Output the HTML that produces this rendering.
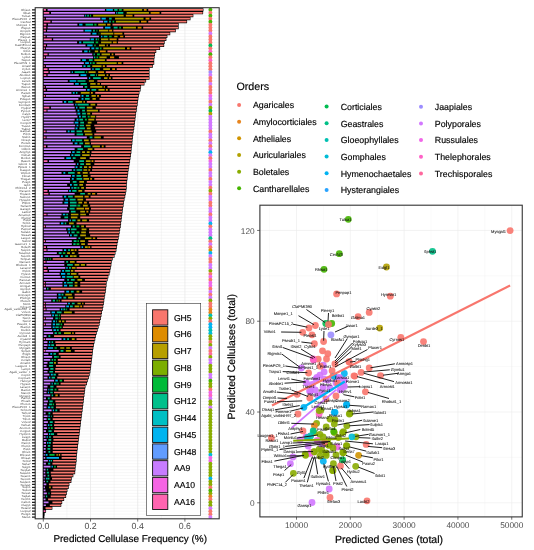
<!DOCTYPE html>
<html lang="en"><head><meta charset="utf-8"><title>Predicted cellulases</title>
<style>html,body{margin:0;padding:0;background:#fff}body{width:534px;height:550px;overflow:hidden}svg{display:block}</style>
</head><body>
<svg width="534" height="550" viewBox="0 0 534 550" font-family='"Liberation Sans", Arial, Helvetica, sans-serif' text-rendering="geometricPrecision">
<rect width="534" height="550" fill="#fff"/>
<g id="barpanel">
<path d="M35.2 9.80H219.2M35.2 12.77H219.2M35.2 15.73H219.2M35.2 18.70H219.2M35.2 21.67H219.2M35.2 24.63H219.2M35.2 27.60H219.2M35.2 30.57H219.2M35.2 33.53H219.2M35.2 36.50H219.2M35.2 39.47H219.2M35.2 42.43H219.2M35.2 45.40H219.2M35.2 48.37H219.2M35.2 51.33H219.2M35.2 54.30H219.2M35.2 57.27H219.2M35.2 60.23H219.2M35.2 63.20H219.2M35.2 66.17H219.2M35.2 69.13H219.2M35.2 72.10H219.2M35.2 75.07H219.2M35.2 78.03H219.2M35.2 81.00H219.2M35.2 83.97H219.2M35.2 86.93H219.2M35.2 89.90H219.2M35.2 92.87H219.2M35.2 95.83H219.2M35.2 98.80H219.2M35.2 101.77H219.2M35.2 104.73H219.2M35.2 107.70H219.2M35.2 110.67H219.2M35.2 113.63H219.2M35.2 116.60H219.2M35.2 119.57H219.2M35.2 122.53H219.2M35.2 125.50H219.2M35.2 128.47H219.2M35.2 131.43H219.2M35.2 134.40H219.2M35.2 137.37H219.2M35.2 140.33H219.2M35.2 143.30H219.2M35.2 146.27H219.2M35.2 149.23H219.2M35.2 152.20H219.2M35.2 155.17H219.2M35.2 158.14H219.2M35.2 161.10H219.2M35.2 164.07H219.2M35.2 167.04H219.2M35.2 170.00H219.2M35.2 172.97H219.2M35.2 175.94H219.2M35.2 178.90H219.2M35.2 181.87H219.2M35.2 184.84H219.2M35.2 187.80H219.2M35.2 190.77H219.2M35.2 193.74H219.2M35.2 196.70H219.2M35.2 199.67H219.2M35.2 202.64H219.2M35.2 205.60H219.2M35.2 208.57H219.2M35.2 211.54H219.2M35.2 214.50H219.2M35.2 217.47H219.2M35.2 220.44H219.2M35.2 223.40H219.2M35.2 226.37H219.2M35.2 229.34H219.2M35.2 232.30H219.2M35.2 235.27H219.2M35.2 238.24H219.2M35.2 241.20H219.2M35.2 244.17H219.2M35.2 247.14H219.2M35.2 250.10H219.2M35.2 253.07H219.2M35.2 256.04H219.2M35.2 259.00H219.2M35.2 261.97H219.2M35.2 264.94H219.2M35.2 267.90H219.2M35.2 270.87H219.2M35.2 273.84H219.2M35.2 276.80H219.2M35.2 279.77H219.2M35.2 282.74H219.2M35.2 285.70H219.2M35.2 288.67H219.2M35.2 291.64H219.2M35.2 294.60H219.2M35.2 297.57H219.2M35.2 300.54H219.2M35.2 303.50H219.2M35.2 306.47H219.2M35.2 309.44H219.2M35.2 312.40H219.2M35.2 315.37H219.2M35.2 318.34H219.2M35.2 321.30H219.2M35.2 324.27H219.2M35.2 327.24H219.2M35.2 330.20H219.2M35.2 333.17H219.2M35.2 336.14H219.2M35.2 339.10H219.2M35.2 342.07H219.2M35.2 345.04H219.2M35.2 348.00H219.2M35.2 350.97H219.2M35.2 353.94H219.2M35.2 356.90H219.2M35.2 359.87H219.2M35.2 362.84H219.2M35.2 365.80H219.2M35.2 368.77H219.2M35.2 371.74H219.2M35.2 374.70H219.2M35.2 377.67H219.2M35.2 380.64H219.2M35.2 383.60H219.2M35.2 386.57H219.2M35.2 389.54H219.2M35.2 392.50H219.2M35.2 395.47H219.2M35.2 398.44H219.2M35.2 401.40H219.2M35.2 404.37H219.2M35.2 407.34H219.2M35.2 410.30H219.2M35.2 413.27H219.2M35.2 416.24H219.2M35.2 419.20H219.2M35.2 422.17H219.2M35.2 425.14H219.2M35.2 428.10H219.2M35.2 431.07H219.2M35.2 434.04H219.2M35.2 437.00H219.2M35.2 439.97H219.2M35.2 442.94H219.2M35.2 445.90H219.2M35.2 448.87H219.2M35.2 451.84H219.2M35.2 454.81H219.2M35.2 457.77H219.2M35.2 460.74H219.2M35.2 463.71H219.2M35.2 466.67H219.2M35.2 469.64H219.2M35.2 472.61H219.2M35.2 475.57H219.2M35.2 478.54H219.2M35.2 481.51H219.2M35.2 484.47H219.2M35.2 487.44H219.2M35.2 490.41H219.2M35.2 493.37H219.2M35.2 496.34H219.2M35.2 499.31H219.2M35.2 502.27H219.2M35.2 505.24H219.2M35.2 508.21H219.2M35.2 511.17H219.2M35.2 514.14H219.2M35.2 517.11H219.2" stroke="#ECECEC" stroke-width="0.4" fill="none"/>
<path d="M66.90 7.7V518.8M114.10 7.7V518.8M161.30 7.7V518.8M208.50 7.7V518.8" stroke="#E6E6E6" stroke-width="0.35" fill="none"/>
<path d="M43.30 7.7V518.8M90.50 7.7V518.8M137.70 7.7V518.8M184.90 7.7V518.8" stroke="#E6E6E6" stroke-width="0.7" fill="none"/>
<path d="M42.70 8.20H203.45V11.40H42.70ZM42.70 11.16H203.11V14.37H42.70ZM42.70 14.13H193.33V17.34H42.70ZM42.70 17.10H190.47V20.30H42.70ZM42.70 20.06H187.09V23.27H42.70ZM42.70 23.03H178.66V26.24H42.70ZM42.70 26.00H178.66V29.20H42.70ZM42.70 28.96H175.79V32.17H42.70ZM42.70 31.93H170.23V35.14H42.70ZM42.70 34.90H167.36V38.10H42.70ZM42.70 37.86H166.35V41.07H42.70ZM42.70 40.83H164.66V44.04H42.70ZM42.70 43.80H164.16V47.00H42.70ZM42.70 46.76H160.11V49.97H42.70ZM42.70 49.73H156.23V52.94H42.70ZM42.70 52.70H155.05V55.90H42.70ZM42.70 55.66H154.55V58.87H42.70ZM42.70 58.63H154.21V61.84H42.70ZM42.70 61.60H154.21V64.80H42.70ZM42.70 64.56H152.86V67.77H42.70ZM42.70 67.53H149.49V70.74H42.70ZM42.70 70.50H149.49V73.70H42.70ZM42.70 73.46H149.49V76.67H42.70ZM42.70 76.43H149.49V79.64H42.70ZM42.70 79.40H146.11V82.60H42.70ZM42.70 82.36H144.43V85.57H42.70ZM42.70 85.33H141.06V88.54H42.70ZM42.70 88.30H140.55V91.50H42.70ZM42.70 91.26H139.43V94.47H42.70ZM42.70 94.23H138.86V97.44H42.70ZM42.70 97.20H138.30V100.40H42.70ZM42.70 100.16H137.93V103.37H42.70ZM42.70 103.13H137.55V106.34H42.70ZM42.70 106.10H136.99V109.30H42.70ZM42.70 109.06H136.62V112.27H42.70ZM42.70 112.03H136.06V115.24H42.70ZM42.70 115.00H135.68V118.20H42.70ZM42.70 117.96H135.31V121.17H42.70ZM42.70 120.93H134.93V124.14H42.70ZM42.70 123.90H134.56V127.10H42.70ZM42.70 126.86H134.18V130.07H42.70ZM42.70 129.83H133.62V133.04H42.70ZM42.70 132.80H133.25V136.00H42.70ZM42.70 135.76H132.87V138.97H42.70ZM42.70 138.73H132.50V141.94H42.70ZM42.70 141.70H132.31V144.90H42.70ZM42.70 144.66H131.94V147.87H42.70ZM42.70 147.63H131.56V150.84H42.70ZM42.70 150.60H131.37V153.80H42.70ZM42.70 153.56H131.00V156.77H42.70ZM42.70 156.53H130.44V159.74H42.70ZM42.70 159.50H130.06V162.71H42.70ZM42.70 162.47H129.50V165.67H42.70ZM42.70 165.43H129.13V168.64H42.70ZM42.70 168.40H128.56V171.61H42.70ZM42.70 171.37H128.19V174.57H42.70ZM42.70 174.33H127.82V177.54H42.70ZM42.70 177.30H127.44V180.51H42.70ZM42.70 180.27H127.07V183.47H42.70ZM42.70 183.23H126.69V186.44H42.70ZM42.70 186.20H126.69V189.41H42.70ZM42.70 189.17H126.32V192.37H42.70ZM42.70 192.13H125.76V195.34H42.70ZM42.70 195.10H125.19V198.31H42.70ZM42.70 198.07H124.45V201.27H42.70ZM42.70 201.03H123.88V204.24H42.70ZM42.70 204.00H123.51V207.21H42.70ZM42.70 206.97H122.95V210.17H42.70ZM42.70 209.93H122.57V213.14H42.70ZM42.70 212.90H122.20V216.11H42.70ZM42.70 215.87H121.82V219.07H42.70ZM42.70 218.83H121.45V222.04H42.70ZM42.70 221.80H121.07V225.01H42.70ZM42.70 224.77H120.70V227.97H42.70ZM42.70 227.73H120.14V230.94H42.70ZM42.70 230.70H119.58V233.91H42.70ZM42.70 233.67H119.20V236.87H42.70ZM42.70 236.63H118.64V239.84H42.70ZM42.70 239.60H118.08V242.81H42.70ZM42.70 242.57H117.33V245.77H42.70ZM42.70 245.53H116.95V248.74H42.70ZM42.70 248.50H116.39V251.71H42.70ZM42.70 251.47H115.46V254.67H42.70ZM42.70 254.43H114.52V257.64H42.70ZM42.70 257.40H112.65V260.61H42.70ZM42.70 260.37H111.71V263.57H42.70ZM42.70 263.33H111.34V266.54H42.70ZM42.70 266.30H110.77V269.51H42.70ZM42.70 269.27H110.21V272.47H42.70ZM42.70 272.23H109.46V275.44H42.70ZM42.70 275.20H108.34V278.41H42.70ZM42.70 278.17H107.59V281.37H42.70ZM42.70 281.13H106.65V284.34H42.70ZM42.70 284.10H106.47V287.31H42.70ZM42.70 287.07H106.09V290.27H42.70ZM42.70 290.03H105.72V293.24H42.70ZM42.70 293.00H105.16V296.21H42.70ZM42.70 295.97H104.59V299.17H42.70ZM42.70 298.93H104.22V302.14H42.70ZM42.70 301.90H103.85V305.11H42.70ZM42.70 304.87H103.28V308.07H42.70ZM42.70 307.83H102.72V311.04H42.70ZM42.70 310.80H101.97V314.01H42.70ZM42.70 313.77H101.41V316.97H42.70ZM42.70 316.73H100.85V319.94H42.70ZM42.70 319.70H100.10V322.91H42.70ZM42.70 322.67H99.54V325.87H42.70ZM42.70 325.63H98.60V328.84H42.70ZM42.70 328.60H97.67V331.81H42.70ZM42.70 331.57H96.73V334.77H42.70ZM42.70 334.53H95.98V337.74H42.70ZM42.70 337.50H95.23V340.71H42.70ZM42.70 340.47H94.48V343.67H42.70ZM42.70 343.43H93.92V346.64H42.70ZM42.70 346.40H93.36V349.61H42.70ZM42.70 349.37H92.98V352.57H42.70ZM42.70 352.33H92.61V355.54H42.70ZM42.70 355.30H92.24V358.51H42.70ZM42.70 358.27H91.86V361.47H42.70ZM42.70 361.23H91.49V364.44H42.70ZM42.70 364.20H91.11V367.41H42.70ZM42.70 367.17H90.74V370.37H42.70ZM42.70 370.13H90.36V373.34H42.70ZM42.70 373.10H89.61V376.31H42.70ZM42.70 376.07H88.86V379.27H42.70ZM42.70 379.03H87.74V382.24H42.70ZM42.70 382.00H86.99V385.21H42.70ZM42.70 384.97H85.49V388.17H42.70ZM42.70 387.93H85.12V391.14H42.70ZM42.70 390.90H84.74V394.11H42.70ZM42.70 393.87H84.37V397.07H42.70ZM42.70 396.83H84.00V400.04H42.70ZM42.70 399.80H83.62V403.01H42.70ZM42.70 402.77H83.25V405.97H42.70ZM42.70 405.73H82.87V408.94H42.70ZM42.70 408.70H82.50V411.91H42.70ZM42.70 411.67H82.12V414.87H42.70ZM42.70 414.63H81.75V417.84H42.70ZM42.70 417.60H81.37V420.81H42.70ZM42.70 420.57H81.00V423.77H42.70ZM42.70 423.53H80.62V426.74H42.70ZM42.70 426.50H80.25V429.71H42.70ZM42.70 429.47H79.88V432.67H42.70ZM42.70 432.43H79.50V435.64H42.70ZM42.70 435.40H79.13V438.61H42.70ZM42.70 438.37H78.75V441.57H42.70ZM42.70 441.33H78.38V444.54H42.70ZM42.70 444.30H78.00V447.51H42.70ZM42.70 447.27H77.63V450.47H42.70ZM42.70 450.23H77.25V453.44H42.70ZM42.70 453.20H76.88V456.41H42.70ZM42.70 456.17H76.59V459.38H42.70ZM42.70 459.14H76.59V462.34H42.70ZM42.70 462.10H76.20V465.31H42.70ZM42.70 465.07H75.67V468.28H42.70ZM42.70 468.04H75.41V471.24H42.70ZM42.70 471.00H75.15V474.21H42.70ZM42.70 473.97H73.32V477.18H42.70ZM42.70 476.94H71.74V480.14H42.70ZM42.70 479.90H71.35V483.11H42.70ZM42.70 482.87H69.38V486.08H42.70ZM42.70 485.84H68.73V489.04H42.70ZM42.70 488.80H67.42V492.01H42.70ZM42.70 491.77H66.76V494.98H42.70ZM42.70 494.74H66.11V497.94H42.70ZM42.70 497.70H64.14V500.91H42.70ZM42.70 500.67H62.18V503.88H42.70ZM42.70 503.64H61.26V506.84H42.70ZM42.70 506.60H52.35V509.81H42.70ZM42.70 509.57H46.05V512.78H42.70ZM42.70 512.54H44.61V515.74H42.70ZM42.70 515.50H44.35V518.71H42.70Z" fill="#000"/>
<path d="M43.71 8.94H45.90V10.66H43.71ZM43.71 11.91H49.27V13.63H43.71ZM43.71 17.84H44.55V19.56H43.71ZM43.71 20.81H50.46V22.53H43.71ZM43.71 23.77H46.41V25.49H43.71ZM43.71 26.74H46.24V28.46H43.71ZM43.71 29.71H45.90V31.43H43.71ZM43.71 35.64H45.56V37.36H43.71ZM43.71 38.61H51.80V40.33H43.71ZM43.71 44.54H45.90V46.26H43.71ZM43.71 47.51H45.06V49.23H43.71ZM43.71 53.44H47.59V55.16H43.71ZM43.71 56.41H45.06V58.13H43.71ZM43.71 65.31H44.72V67.03H43.71ZM43.71 68.27H47.59V69.99H43.71ZM43.71 71.24H48.43V72.96H43.71ZM43.71 74.21H46.41V75.93H43.71ZM43.71 86.07H44.72V87.79H43.71ZM43.75 89.04H45.62V90.76H43.75ZM43.75 94.97H45.24V96.69H43.75ZM43.75 106.84H49.36V108.56H43.75ZM43.75 109.81H46.55V111.53H43.75ZM43.75 130.57H45.62V132.29H43.75ZM43.75 136.51H45.62V138.23H43.75ZM43.75 145.41H45.99V147.13H43.75ZM43.75 160.24H47.49V161.96H43.75ZM43.75 189.91H47.49V191.63H43.75ZM43.75 192.88H48.43V194.60H43.75ZM43.75 213.64H46.55V215.36H43.75ZM43.75 225.51H45.24V227.23H43.75ZM43.75 240.34H45.24V242.06H43.75ZM43.75 246.28H45.99V248.00H43.75ZM43.75 249.24H46.55V250.96H43.75ZM43.75 261.11H45.62V262.83H43.75ZM43.75 267.04H46.55V268.76H43.75ZM43.75 270.01H47.49V271.73H43.75ZM43.75 281.88H45.24V283.60H43.75ZM43.75 284.84H45.24V286.56H43.75ZM43.75 302.64H45.24V304.36H43.75ZM43.75 305.61H45.24V307.33H43.75ZM43.75 308.58H45.62V310.30H43.75ZM43.75 317.48H45.24V319.20H43.75ZM43.75 323.41H45.24V325.13H43.75ZM43.75 338.24H45.24V339.96H43.75ZM43.75 350.11H45.24V351.83H43.75ZM43.67 510.31H45.50V512.03H43.67Z" fill="#FF64B0"/>
<path d="M47.59 8.94H104.92V10.66H47.59ZM50.96 11.91H115.04V13.63H50.96ZM43.71 14.87H84.18V16.59H43.71ZM45.90 17.84H100.37V19.56H45.90ZM51.80 20.81H103.24V22.53H51.80ZM47.93 23.77H77.44V25.49H47.93ZM47.59 26.74H103.24V28.46H47.59ZM47.08 29.71H83.51V31.43H47.08ZM43.71 32.67H90.59V34.39H43.71ZM46.75 35.64H99.02V37.36H46.75ZM53.15 38.61H89.75V40.33H53.15ZM43.71 41.57H77.10V43.29H43.71ZM47.08 44.54H85.53V46.26H47.08ZM45.90 47.51H89.75V49.23H45.90ZM43.71 50.47H82.16V52.19H43.71ZM48.77 53.44H92.28V55.16H48.77ZM45.90 56.41H93.12V58.13H45.90ZM43.71 59.37H80.47V61.09H43.71ZM43.71 62.34H83.84V64.06H43.71ZM45.90 65.31H82.16V67.03H45.90ZM48.77 68.27H90.59V69.99H48.77ZM49.78 71.24H70.35V72.96H49.78ZM47.59 74.21H78.79V75.93H47.59ZM43.71 77.17H87.22V78.89H43.71ZM43.71 80.14H67.82V81.86H43.71ZM43.71 83.11H73.73V84.83H43.71ZM45.90 86.07H83.00V87.79H45.90ZM47.12 89.04H85.88V90.76H47.12ZM43.75 92.01H71.46V93.73H43.75ZM45.99 94.97H80.26V96.69H45.99ZM43.75 97.94H78.39V99.66H43.75ZM43.75 100.91H62.47V102.63H43.75ZM43.75 103.87H73.71V105.59H43.75ZM50.86 106.84H74.64V108.56H50.86ZM47.49 109.81H75.58V111.53H47.49ZM43.75 112.77H76.52V114.49H43.75ZM43.75 115.74H77.45V117.46H43.75ZM43.75 118.71H74.64V120.43H43.75ZM43.75 121.67H73.71V123.39H43.75ZM43.75 124.64H75.21V126.36H43.75ZM43.75 127.61H74.64V129.33H43.75ZM46.55 130.57H66.22V132.29H46.55ZM43.75 133.54H74.64V135.26H43.75ZM46.55 136.51H86.82V138.23H46.55ZM43.75 139.47H70.90V141.19H43.75ZM43.75 142.44H72.77V144.16H43.75ZM47.49 145.41H81.20V147.13H47.49ZM43.75 148.37H74.64V150.09H43.75ZM43.75 151.34H70.90V153.06H43.75ZM43.75 154.31H69.96V156.03H43.75ZM43.75 157.28H64.34V159.00H43.75ZM48.99 160.24H73.71V161.96H48.99ZM43.75 163.21H75.58V164.93H43.75ZM43.75 166.18H74.64V167.90H43.75ZM43.75 169.14H71.84V170.86H43.75ZM43.75 172.11H61.54V173.83H43.75ZM43.75 175.08H70.90V176.80H43.75ZM43.75 178.04H69.96V179.76H43.75ZM43.75 181.01H69.96V182.73H43.75ZM43.75 183.98H67.15V185.70H43.75ZM43.75 186.94H69.96V188.66H43.75ZM48.99 189.91H68.09V191.63H48.99ZM49.74 192.88H74.64V194.60H49.74ZM43.75 195.84H62.47V197.56H43.75ZM43.75 198.81H63.41V200.53H43.75ZM43.75 201.78H62.47V203.50H43.75ZM43.75 204.74H68.09V206.46H43.75ZM43.75 207.71H67.15V209.43H43.75ZM43.75 210.68H69.03V212.40H43.75ZM47.49 213.64H61.54V215.36H47.49ZM43.75 216.61H60.60V218.33H43.75ZM43.75 219.58H68.09V221.30H43.75ZM43.75 222.54H59.66V224.26H43.75ZM45.99 225.51H70.90V227.23H45.99ZM43.75 228.48H66.22V230.20H43.75ZM43.75 231.44H67.15V233.16H43.75ZM43.75 234.41H69.03V236.13H43.75ZM43.75 237.38H76.52V239.10H43.75ZM45.99 240.34H71.84V242.06H45.99ZM43.75 243.31H71.84V245.03H43.75ZM47.12 246.28H80.26V248.00H47.12ZM47.49 249.24H62.47V250.96H47.49ZM43.75 252.21H56.85V253.93H43.75ZM43.75 255.18H59.66V256.90H43.75ZM43.75 258.14H44.68V259.86H43.75ZM46.55 261.11H64.34V262.83H46.55ZM43.75 264.08H64.34V265.80H43.75ZM47.87 267.04H65.28V268.76H47.87ZM48.99 270.01H60.60V271.73H48.99ZM43.75 272.98H59.66V274.70H43.75ZM43.75 275.94H60.60V277.66H43.75ZM43.75 278.91H64.34V280.63H43.75ZM45.99 281.88H62.47V283.60H45.99ZM45.99 284.84H62.47V286.56H45.99ZM43.75 287.81H45.99V289.53H43.75ZM43.75 290.78H64.34V292.50H43.75ZM43.75 293.74H56.85V295.46H43.75ZM43.75 296.71H56.85V298.43H43.75ZM43.75 299.68H51.24V301.40H43.75ZM45.99 302.64H67.15V304.36H45.99ZM45.99 305.61H65.28V307.33H45.99ZM46.55 308.58H59.66V310.30H46.55ZM43.75 311.54H50.30V313.26H43.75ZM43.75 314.51H51.24V316.23H43.75ZM45.99 317.48H53.11V319.20H45.99ZM43.75 320.44H51.61V322.16H43.75ZM45.99 323.41H51.24V325.13H45.99ZM43.75 326.38H51.24V328.10H43.75ZM43.75 329.34H52.17V331.06H43.75ZM43.75 332.31H53.11V334.03H43.75ZM43.75 335.28H46.55V337.00H43.75ZM45.99 338.24H61.54V339.96H45.99ZM43.75 341.21H47.49V342.93H43.75ZM43.75 344.18H47.49V345.90H43.75ZM43.75 347.14H46.55V348.86H43.75ZM45.62 350.11H58.73V351.83H45.62ZM43.75 353.08H48.43V354.80H43.75ZM43.75 356.04H52.17V357.76H43.75ZM43.75 359.01H50.30V360.73H43.75ZM43.75 361.98H47.49V363.70H43.75ZM43.75 364.94H46.55V366.66H43.75ZM43.75 367.91H48.43V369.63H43.75ZM43.75 370.88H47.49V372.60H43.75ZM43.75 373.84H49.36V375.56H43.75ZM43.75 376.81H47.49V378.53H43.75ZM43.75 379.78H54.04V381.50H43.75ZM43.75 382.74H50.30V384.46H43.75ZM43.75 385.71H47.49V387.43H43.75ZM43.75 388.68H47.12V390.40H43.75ZM43.75 391.64H46.55V393.36H43.75ZM43.75 394.61H50.30V396.33H43.75ZM43.75 397.58H45.99V399.30H43.75ZM43.75 400.54H47.87V402.26H43.75ZM43.75 403.51H47.12V405.23H43.75ZM43.75 406.48H46.55V408.20H43.75ZM43.75 409.44H51.61V411.16H43.75ZM43.75 412.41H45.62V414.13H43.75ZM43.75 415.38H47.49V417.10H43.75ZM43.75 418.34H46.55V420.06H43.75ZM43.75 421.31H47.87V423.03H43.75ZM43.75 424.28H46.55V426.00H43.75ZM43.75 427.24H47.12V428.96H43.75ZM43.75 430.21H45.99V431.93H43.75ZM43.75 433.18H47.87V434.90H43.75ZM43.75 436.14H45.62V437.86H43.75ZM43.75 439.11H46.55V440.83H43.75ZM43.75 442.08H45.99V443.80H43.75ZM43.75 445.04H45.99V446.76H43.75ZM43.75 448.01H45.62V449.73H43.75ZM43.75 450.98H45.62V452.70H43.75ZM43.75 453.94H44.68V455.67H43.75ZM43.67 456.91H45.24V458.63H43.67ZM43.67 459.88H47.86V461.60H43.67ZM43.67 462.85H45.90V464.57H43.67ZM43.67 465.81H50.48V467.53H43.67ZM43.67 468.78H45.50V470.50H43.67ZM43.67 471.75H45.24V473.47H43.67ZM43.67 474.71H45.50V476.43H43.67ZM43.67 477.68H44.59V479.40H43.67ZM43.67 480.65H44.98V482.37H43.67ZM43.67 483.61H46.29V485.33H43.67ZM43.67 486.58H44.98V488.30H43.67ZM43.67 489.55H45.50V491.27H43.67ZM43.67 492.51H46.82V494.23H43.67ZM43.67 495.48H44.59V497.20H43.67ZM43.67 498.45H45.50V500.17H43.67ZM43.67 501.41H48.52V503.13H43.67ZM43.67 504.38H45.90V506.10H43.67Z" fill="#C77CFF"/>
<path d="M106.27 8.94H112.85V10.66H106.27ZM116.22 11.91H117.23V13.63H116.22ZM85.19 14.87H86.21V16.59H85.19ZM101.55 17.84H105.77V19.56H101.55ZM104.08 20.81H107.45V22.53H104.08ZM79.12 23.77H82.50V25.49H79.12ZM104.92 26.74H110.49V28.46H104.92ZM84.69 29.71H91.43V31.43H84.69ZM92.28 32.67H96.49V34.39H92.28ZM101.05 35.64H102.39V37.36H101.05ZM90.59 38.61H93.96V40.33H90.59ZM79.12 41.57H81.32V43.29H79.12ZM87.22 44.54H92.61V46.26H87.22ZM91.43 47.51H94.30V49.23H91.43ZM84.18 50.47H87.55V52.19H84.18ZM82.16 59.37H85.87V61.09H82.16ZM85.19 62.34H88.90V64.06H85.19ZM83.51 65.31H85.53V67.03H83.51ZM92.28 68.27H93.63V69.99H92.28ZM71.70 71.24H72.88V72.96H71.70ZM80.47 74.21H86.37V75.93H80.47ZM88.90 77.17H90.25V78.89H88.90ZM69.51 80.14H76.26V81.86H69.51ZM75.08 83.11H78.79V84.83H75.08ZM87.19 89.04H89.63V90.76H87.19ZM72.77 92.01H74.64V93.73H72.77ZM81.57 94.97H83.45V96.69H81.57ZM81.57 97.94H83.45V99.66H81.57ZM63.97 100.91H66.22V102.63H63.97ZM75.21 103.87H76.52V105.59H75.21ZM75.96 106.84H77.45V108.56H75.96ZM77.45 109.81H79.33V111.53H77.45ZM77.45 112.77H80.26V114.49H77.45ZM78.95 115.74H80.82V117.46H78.95ZM76.52 118.71H78.39V120.43H76.52ZM74.64 121.67H78.39V123.39H74.64ZM76.52 124.64H78.39V126.36H76.52ZM75.58 127.61H77.45V129.33H75.58ZM67.72 130.57H69.59V132.29H67.72ZM72.21 139.47H74.64V141.19H72.21ZM74.64 142.44H77.45V144.16H74.64ZM72.21 151.34H74.64V153.06H72.21ZM71.46 154.31H73.33V156.03H71.46ZM66.22 157.28H70.90V159.00H66.22ZM77.08 163.21H78.39V164.93H77.08ZM75.58 166.18H77.45V167.90H75.58ZM73.33 169.14H75.21V170.86H73.33ZM63.41 172.11H65.28V173.83H63.41ZM72.21 175.08H74.64V176.80H72.21ZM71.84 178.04H73.71V179.76H71.84ZM69.96 183.98H71.84V185.70H69.96ZM71.46 186.94H72.77V188.66H71.46ZM69.03 189.91H70.90V191.63H69.03ZM63.97 195.84H66.22V197.56H63.97ZM65.28 198.81H68.09V200.53H65.28ZM64.34 201.78H68.09V203.50H64.34ZM62.85 213.64H65.28V215.36H62.85ZM69.59 219.58H70.90V221.30H69.59ZM60.97 222.54H63.41V224.26H60.97ZM67.72 228.48H69.96V230.20H67.72ZM68.46 231.44H69.96V233.16H68.46ZM69.96 234.41H71.84V236.13H69.96ZM81.57 246.28H83.07V248.00H81.57ZM63.97 249.24H66.22V250.96H63.97ZM60.97 255.18H62.85V256.90H60.97ZM66.22 267.04H67.72V268.76H66.22ZM62.10 270.01H63.97V271.73H62.10ZM60.97 272.98H65.28V274.70H60.97ZM62.10 275.94H65.28V277.66H62.10ZM63.97 281.88H66.22V283.60H63.97ZM63.97 284.84H67.15V286.56H63.97ZM66.22 290.78H69.03V292.50H66.22ZM58.35 293.74H60.60V295.46H58.35ZM58.35 296.71H61.54V298.43H58.35ZM68.09 302.64H69.96V304.36H68.09ZM66.22 305.61H69.03V307.33H66.22ZM60.97 308.58H62.47V310.30H60.97ZM51.61 311.54H54.98V313.26H51.61ZM52.17 314.51H54.04V316.23H52.17ZM53.11 320.44H54.98V322.16H53.11ZM52.73 323.41H54.98V325.13H52.73ZM52.73 326.38H54.61V328.10H52.73ZM53.48 329.34H55.92V331.06H53.48ZM63.41 338.24H65.28V339.96H63.41ZM48.99 341.21H50.30V342.93H48.99ZM48.43 344.18H50.30V345.90H48.43ZM47.87 347.14H53.11V348.86H47.87ZM50.30 353.08H52.17V354.80H50.30ZM50.86 373.84H52.73V375.56H50.86ZM48.99 376.81H50.30V378.53H48.99ZM55.36 379.78H57.79V381.50H55.36ZM51.61 382.74H52.73V384.46H51.61ZM48.43 388.68H49.36V390.40H48.43ZM47.87 391.64H48.99V393.36H47.87ZM47.87 406.48H50.30V408.20H47.87ZM52.73 409.44H54.04V411.16H52.73ZM48.43 415.38H49.74V417.10H48.43ZM47.87 424.28H49.36V426.00H47.87ZM48.99 433.18H50.30V434.90H48.99ZM46.55 436.14H47.87V437.86H46.55ZM47.12 442.08H48.43V443.80H47.12ZM45.62 453.94H47.49V455.67H45.62ZM46.55 456.91H59.00V458.63H46.55ZM48.91 459.88H50.22V461.60H48.91ZM51.53 465.81H52.84V467.53H51.53ZM45.90 477.68H46.82V479.40H45.90Z" fill="#00B4F0"/>
<path d="M114.20 8.94H117.57V10.66H114.20ZM117.91 11.91H123.31V13.63H117.91ZM87.22 14.87H88.90V16.59H87.22ZM109.14 17.84H111.67V19.56H109.14ZM109.14 20.81H110.83V22.53H109.14ZM85.53 23.77H93.12V25.49H85.53ZM113.69 26.74H117.57V28.46H113.69ZM93.12 29.71H94.81V31.43H93.12ZM103.74 35.64H107.45V37.36H103.74ZM95.65 38.61H97.34V40.33H95.65ZM83.00 41.57H93.96V43.29H83.00ZM95.65 47.51H98.68V49.23H95.65ZM88.90 50.47H90.25V52.19H88.90ZM93.63 53.44H94.81V55.16H93.63ZM93.96 56.41H95.31V58.13H93.96ZM88.90 59.37H92.61V61.09H88.90ZM90.08 62.34H91.43V64.06H90.08ZM87.22 65.31H90.25V67.03H87.22ZM95.31 68.27H99.87V69.99H95.31ZM74.57 71.24H84.69V72.96H74.57ZM90.25 74.21H94.81V75.93H90.25ZM93.12 77.17H100.71V78.89H93.12ZM77.44 80.14H85.53V81.86H77.44ZM80.47 83.11H86.88V84.83H80.47ZM84.69 86.07H87.22V87.79H84.69ZM91.50 89.04H96.18V90.76H91.50ZM85.88 94.97H89.06V96.69H85.88ZM84.94 97.94H89.63V99.66H84.94ZM68.09 100.91H72.77V102.63H68.09ZM77.45 103.87H88.69V105.59H77.45ZM79.33 106.84H84.94V108.56H79.33ZM82.13 109.81H84.94V111.53H82.13ZM82.13 112.77H85.88V114.49H82.13ZM82.13 115.74H85.88V117.46H82.13ZM79.33 118.71H83.07V120.43H79.33ZM80.26 121.67H84.01V123.39H80.26ZM79.70 124.64H84.01V126.36H79.70ZM79.33 127.61H84.94V129.33H79.33ZM76.52 130.57H82.13V132.29H76.52ZM76.52 133.54H83.07V135.26H76.52ZM89.63 136.51H92.43V138.23H89.63ZM75.58 139.47H82.13V141.19H75.58ZM79.33 142.44H83.07V144.16H79.33ZM84.01 145.41H90.56V147.13H84.01ZM77.45 148.37H83.07V150.09H77.45ZM76.52 151.34H80.26V153.06H76.52ZM74.64 154.31H80.26V156.03H74.64ZM72.77 157.28H75.58V159.00H72.77ZM79.33 160.24H84.01V161.96H79.33ZM80.26 163.21H84.01V164.93H80.26ZM79.70 166.18H82.13V167.90H79.70ZM76.52 169.14H82.13V170.86H76.52ZM68.09 172.11H74.64V173.83H68.09ZM76.52 175.08H81.20V176.80H76.52ZM76.52 178.04H82.13V179.76H76.52ZM72.77 181.01H76.52V182.73H72.77ZM73.71 183.98H77.45V185.70H73.71ZM73.71 186.94H76.52V188.66H73.71ZM72.21 189.91H76.52V191.63H72.21ZM80.26 192.88H84.94V194.60H80.26ZM68.09 195.84H72.77V197.56H68.09ZM69.59 198.81H75.58V200.53H69.59ZM69.96 201.78H76.52V203.50H69.96ZM69.96 204.74H76.52V206.46H69.96ZM69.59 207.71H74.64V209.43H69.59ZM70.90 210.68H75.58V212.40H70.90ZM66.22 213.64H68.09V215.36H66.22ZM64.34 216.61H68.09V218.33H64.34ZM72.21 219.58H75.58V221.30H72.21ZM64.72 222.54H66.22V224.26H64.72ZM72.77 225.51H74.64V227.23H72.77ZM70.90 228.48H76.52V230.20H70.90ZM71.46 231.44H74.64V233.16H71.46ZM73.71 234.41H77.45V236.13H73.71ZM78.39 237.38H80.26V239.10H78.39ZM73.71 240.34H76.52V242.06H73.71ZM73.33 243.31H75.58V245.03H73.33ZM68.09 249.24H69.96V250.96H68.09ZM58.73 252.21H61.54V253.93H58.73ZM65.28 255.18H68.09V256.90H65.28ZM45.62 258.14H46.55V259.86H45.62ZM66.22 261.11H68.09V262.83H66.22ZM67.15 264.08H72.77V265.80H67.15ZM69.03 267.04H70.90V268.76H69.03ZM65.28 270.01H69.96V271.73H65.28ZM67.15 272.98H69.96V274.70H67.15ZM66.59 275.94H72.77V277.66H66.59ZM67.15 278.91H69.03V280.63H67.15ZM70.90 278.91H74.64V280.63H70.90ZM67.15 281.88H72.77V283.60H67.15ZM69.03 284.84H72.77V286.56H69.03ZM47.12 287.81H48.43V289.53H47.12ZM70.90 290.78H73.71V292.50H70.90ZM61.54 293.74H63.41V295.46H61.54ZM63.41 296.71H66.22V298.43H63.41ZM52.73 299.68H54.98V301.40H52.73ZM71.84 302.64H74.64V304.36H71.84ZM69.96 305.61H72.77V307.33H69.96ZM63.41 308.58H65.28V310.30H63.41ZM56.85 311.54H61.54V313.26H56.85ZM54.98 314.51H57.79V316.23H54.98ZM55.36 317.48H57.79V319.20H55.36ZM55.92 320.44H56.85V322.16H55.92ZM55.92 323.41H59.66V325.13H55.92ZM55.36 326.38H58.73V328.10H55.36ZM56.85 329.34H58.73V331.06H56.85ZM54.61 332.31H56.85V334.03H54.61ZM48.43 335.28H50.30V337.00H48.43ZM67.15 338.24H69.03V339.96H67.15ZM51.61 341.21H53.11V342.93H51.61ZM51.24 344.18H54.04V345.90H51.24ZM60.60 350.11H63.41V351.83H60.60ZM53.48 353.08H55.92V354.80H53.48ZM54.04 356.04H56.85V357.76H54.04ZM51.61 359.01H53.11V360.73H51.61ZM49.36 361.98H53.11V363.70H49.36ZM48.99 364.94H53.11V366.66H48.99ZM50.30 367.91H53.48V369.63H50.30ZM49.36 370.88H53.11V372.60H49.36ZM53.48 373.84H55.92V375.56H53.48ZM51.61 376.81H54.98V378.53H51.61ZM54.04 382.74H56.48V384.46H54.04ZM50.30 385.71H53.48V387.43H50.30ZM50.30 388.68H53.11V390.40H50.30ZM50.30 391.64H52.73V393.36H50.30ZM51.61 394.61H53.11V396.33H51.61ZM47.87 397.58H49.74V399.30H47.87ZM49.36 400.54H52.73V402.26H49.36ZM48.99 403.51H52.17V405.23H48.99ZM51.24 406.48H53.48V408.20H51.24ZM55.36 409.44H57.23V411.16H55.36ZM48.43 412.41H50.30V414.13H48.43ZM50.86 415.38H51.61V417.10H50.86ZM47.87 418.34H50.30V420.06H47.87ZM49.74 421.31H52.73V423.03H49.74ZM50.30 424.28H52.17V426.00H50.30ZM48.43 427.24H49.74V428.96H48.43ZM48.43 430.21H51.61V431.93H48.43ZM50.86 433.18H54.04V434.90H50.86ZM48.99 436.14H50.86V437.86H48.99ZM48.43 439.11H51.24V440.83H48.43ZM48.99 442.08H50.86V443.80H48.99ZM47.87 445.04H50.30V446.76H47.87ZM47.49 448.01H50.30V449.73H47.49ZM48.43 450.98H50.30V452.70H48.43ZM50.75 459.88H52.06V461.60H50.75ZM48.13 462.85H50.22V464.57H48.13ZM46.82 468.78H48.13V470.50H46.82ZM46.82 471.75H48.91V473.47H46.82ZM47.60 474.71H49.17V476.43H47.60ZM47.21 477.68H49.44V479.40H47.21ZM46.55 480.65H48.13V482.37H46.55ZM48.52 492.51H49.44V494.23H48.52ZM45.90 495.48H47.21V497.20H45.90Z" fill="#00C08B"/>
<path d="M118.92 8.94H121.79V10.66H118.92ZM89.92 14.87H91.10V16.59H89.92ZM112.51 20.81H114.20V22.53H112.51ZM94.30 23.77H96.49V25.49H94.30ZM119.26 26.74H120.94V28.46H119.26ZM96.49 29.71H97.34V31.43H96.49ZM98.68 32.67H99.36V34.39H98.68ZM109.14 35.64H111.67V37.36H109.14ZM98.18 38.61H99.02V40.33H98.18ZM95.65 41.57H98.18V43.29H95.65ZM94.30 44.54H95.65V46.26H94.30ZM99.87 47.51H101.55V49.23H99.87ZM97.00 53.44H99.87V55.16H97.00ZM96.49 56.41H98.18V58.13H96.49ZM92.61 62.34H94.81V64.06H92.61ZM85.87 71.24H87.22V72.96H85.87ZM95.99 74.21H97.00V75.93H95.99ZM87.75 115.74H89.63V117.46H87.75ZM84.94 118.71H86.82V120.43H84.94ZM77.45 186.94H79.33V188.66H77.45ZM77.45 204.74H80.26V206.46H77.45ZM76.52 225.51H79.33V227.23H76.52ZM76.52 231.44H79.33V233.16H76.52ZM77.45 240.34H78.95V242.06H77.45ZM76.52 243.31H79.33V245.03H76.52ZM62.85 252.21H65.28V253.93H62.85ZM47.87 258.14H48.99V259.86H47.87ZM49.74 258.14H50.86V259.86H49.74ZM56.48 299.68H57.79V301.40H56.48ZM66.22 308.58H67.15V310.30H66.22ZM58.73 314.51H60.22V316.23H58.73ZM58.73 317.48H59.66V319.20H58.73ZM60.60 323.41H62.10V325.13H60.60ZM59.66 326.38H61.54V328.10H59.66ZM58.35 332.31H60.97V334.03H58.35ZM54.61 347.14H56.85V348.86H54.61ZM57.23 356.04H58.73V357.76H57.23ZM54.04 359.01H55.92V360.73H54.04ZM59.66 379.78H62.10V381.50H59.66ZM57.23 382.74H58.73V384.46H57.23ZM54.61 388.68H56.48V390.40H54.61ZM52.73 403.51H54.04V405.23H52.73ZM50.86 427.24H52.73V428.96H50.86ZM49.36 453.94H54.61V455.67H49.36ZM54.15 465.81H55.73V467.53H54.15Z" fill="#00BA38"/>
<path d="M123.47 8.94H142.19V10.66H123.47ZM126.68 11.91H148.94V13.63H126.68ZM93.12 14.87H123.64V16.59H93.12ZM115.04 17.84H143.54V19.56H115.04ZM115.89 20.81H139.33V22.53H115.89ZM98.18 23.77H105.77V25.49H98.18ZM122.97 26.74H135.95V28.46H122.97ZM99.02 29.71H108.30V31.43H99.02ZM100.71 32.67H113.36V34.39H100.71ZM114.20 35.64H117.57V37.36H114.20ZM101.05 38.61H108.30V40.33H101.05ZM101.05 41.57H111.67V43.29H101.05ZM99.02 44.54H104.92V46.26H99.02ZM103.24 47.51H124.99V49.23H103.24ZM94.81 50.47H98.18V52.19H94.81ZM101.55 53.44H109.98V55.16H101.55ZM99.36 56.41H106.61V58.13H99.36ZM94.30 59.37H104.92V61.09H94.30ZM96.49 62.34H116.73V64.06H96.49ZM92.28 65.31H101.55V67.03H92.28ZM103.24 68.27H109.98V69.99H103.24ZM88.57 71.24H95.65V72.96H88.57ZM98.18 74.21H104.92V75.93H98.18ZM104.08 77.17H107.45V78.89H104.08ZM88.90 80.14H93.96V81.86H88.90ZM90.25 83.11H95.65V84.83H90.25ZM90.25 86.07H102.39V87.79H90.25ZM98.43 89.04H104.61V90.76H98.43ZM80.82 92.01H89.63V93.73H80.82ZM91.50 94.97H95.81V96.69H91.50ZM92.43 97.94H95.81V99.66H92.43ZM75.58 100.91H82.13V102.63H75.58ZM90.56 103.87H95.24V105.59H90.56ZM86.82 106.84H92.43V108.56H86.82ZM86.82 109.81H98.05V111.53H86.82ZM87.19 112.77H90.19V114.49H87.19ZM90.56 115.74H95.24V117.46H90.56ZM88.31 118.71H94.31V120.43H88.31ZM87.75 121.67H91.50V123.39H87.75ZM85.88 124.64H90.56V126.36H85.88ZM86.82 127.61H90.56V129.33H86.82ZM84.01 130.57H91.50V132.29H84.01ZM84.94 133.54H92.43V135.26H84.94ZM94.31 136.51H100.86V138.23H94.31ZM84.01 139.47H88.69V141.19H84.01ZM84.94 142.44H89.63V144.16H84.94ZM92.43 145.41H99.93V147.13H92.43ZM87.75 148.37H92.43V150.09H87.75ZM82.13 151.34H84.94V153.06H82.13ZM86.82 151.34H89.63V153.06H86.82ZM82.13 154.31H89.63V156.03H82.13ZM80.26 157.28H85.88V159.00H80.26ZM85.88 160.24H90.56V161.96H85.88ZM85.88 163.21H90.56V164.93H85.88ZM84.01 166.18H87.19V167.90H84.01ZM83.45 169.14H87.19V170.86H83.45ZM77.45 172.11H80.26V173.83H77.45ZM82.70 172.11H87.75V173.83H82.70ZM83.07 175.08H87.75V176.80H83.07ZM83.45 178.04H89.06V179.76H83.45ZM79.33 181.01H84.01V182.73H79.33ZM79.33 183.98H83.07V185.70H79.33ZM81.20 186.94H84.01V188.66H81.20ZM78.39 189.91H82.13V191.63H78.39ZM87.75 192.88H90.56V194.60H87.75ZM74.64 195.84H83.07V197.56H74.64ZM77.45 198.81H83.07V200.53H77.45ZM78.39 201.78H82.13V203.50H78.39ZM83.07 204.74H87.75V206.46H83.07ZM76.52 207.71H84.01V209.43H76.52ZM80.26 210.68H84.94V212.40H80.26ZM70.90 213.64H78.39V215.36H70.90ZM80.26 213.64H85.88V215.36H80.26ZM70.90 216.61H77.45V218.33H70.90ZM77.45 219.58H80.26V221.30H77.45ZM82.13 219.58H86.82V221.30H82.13ZM69.03 222.54H73.71V224.26H69.03ZM81.20 225.51H84.01V227.23H81.20ZM81.57 228.48H86.44V230.20H81.57ZM81.20 231.44H85.88V233.16H81.20ZM80.26 234.41H85.88V236.13H80.26ZM84.94 237.38H91.50V239.10H84.94ZM80.26 240.34H84.94V242.06H80.26ZM81.20 243.31H84.94V245.03H81.20ZM84.94 246.28H87.75V248.00H84.94ZM70.90 249.24H73.71V250.96H70.90ZM67.15 252.21H69.96V253.93H67.15ZM71.84 252.21H74.64V253.93H71.84ZM69.96 255.18H72.77V256.90H69.96ZM73.33 255.18H76.52V256.90H73.33ZM69.96 261.11H74.64V262.83H69.96ZM74.64 264.08H79.33V265.80H74.64ZM80.82 264.08H84.94V265.80H80.82ZM71.84 267.04H75.58V268.76H71.84ZM70.90 270.01H73.33V271.73H70.90ZM70.90 272.98H76.52V274.70H70.90ZM73.71 275.94H78.39V277.66H73.71ZM77.45 278.91H82.13V280.63H77.45ZM74.64 281.88H77.45V283.60H74.64ZM74.64 284.84H77.45V286.56H74.64ZM76.52 290.78H79.33V292.50H76.52ZM65.28 293.74H71.84V295.46H65.28ZM68.09 296.71H72.77V298.43H68.09ZM58.73 299.68H59.66V301.40H58.73ZM77.45 302.64H80.82V304.36H77.45ZM74.64 305.61H79.33V307.33H74.64ZM63.97 311.54H71.84V313.26H63.97ZM58.73 320.44H60.97V322.16H58.73ZM62.10 320.44H64.34V322.16H62.10ZM63.97 332.31H70.90V334.03H63.97ZM71.84 338.24H74.64V339.96H71.84ZM60.22 347.14H64.34V348.86H60.22ZM66.22 347.14H69.96V348.86H66.22ZM65.84 350.11H70.90V351.83H65.84ZM54.04 361.98H55.92V363.70H54.04ZM56.48 453.94H57.79V455.67H56.48ZM49.17 486.58H50.75V488.30H49.17Z" fill="#B79F00"/>
<path d="M143.88 8.94H146.58V10.66H143.88ZM150.62 11.91H159.56V13.63H150.62ZM125.83 14.87H132.58V16.59H125.83ZM145.56 17.84H149.44V19.56H145.56ZM141.01 20.81H146.58V22.53H141.01ZM107.12 23.77H110.49V25.49H107.12ZM137.64 26.74H141.52V28.46H137.64ZM109.14 29.71H112.18V31.43H109.14ZM114.20 32.67H122.46V34.39H114.20ZM120.10 35.64H123.31V37.36H120.10ZM109.48 38.61H116.73V40.33H109.48ZM112.85 41.57H116.73V43.29H112.85ZM106.61 44.54H107.79V46.26H106.61ZM127.02 47.51H129.71V49.23H127.02ZM99.87 50.47H105.77V52.19H99.87ZM111.67 53.44H113.36V55.16H111.67ZM109.98 56.41H114.20V58.13H109.98ZM117.91 62.34H121.62V64.06H117.91ZM102.73 65.31H104.92V67.03H102.73ZM112.18 68.27H115.04V69.99H112.18ZM98.18 71.24H104.08V72.96H98.18ZM106.61 74.21H108.30V75.93H106.61ZM109.14 77.17H110.83V78.89H109.14ZM97.34 83.11H99.87V84.83H97.34ZM103.74 86.07H104.92V87.79H103.74ZM105.92 89.04H107.79V90.76H105.92ZM90.94 92.01H92.81V93.73H90.94ZM97.12 94.97H98.99V96.69H97.12ZM83.45 100.91H84.94V102.63H83.45ZM101.80 145.41H103.67V147.13H101.80ZM91.50 160.24H93.37V161.96H91.50ZM88.69 166.18H90.94V167.90H88.69ZM88.31 169.14H90.19V170.86H88.31ZM90.19 178.04H92.06V179.76H90.19ZM92.06 192.88H95.24V194.60H92.06ZM84.57 195.84H88.69V197.56H84.57ZM84.01 201.78H86.82V203.50H84.01ZM84.94 207.71H89.06V209.43H84.94ZM86.44 210.68H88.31V212.40H86.44ZM92.81 237.38H95.24V239.10H92.81ZM88.31 246.28H90.19V248.00H88.31ZM74.64 249.24H76.52V250.96H74.64ZM82.13 302.64H83.45V304.36H82.13ZM80.26 305.61H82.13V307.33H80.26ZM72.21 332.31H73.71V334.03H72.21ZM55.36 394.61H57.79V396.33H55.36ZM58.73 453.94H60.22V455.67H58.73Z" fill="#DE8C00"/>
<path d="M148.26 8.94H202.90V10.66H148.26ZM161.25 11.91H202.56V13.63H161.25ZM134.27 14.87H192.78V16.59H134.27ZM151.13 17.84H189.92V19.56H151.13ZM148.26 20.81H186.54V22.53H148.26ZM112.51 23.77H178.11V25.49H112.51ZM143.20 26.74H178.11V28.46H143.20ZM113.36 29.71H175.24V31.43H113.36ZM124.15 32.67H169.68V34.39H124.15ZM124.99 35.64H166.81V37.36H124.99ZM118.41 38.61H165.80V40.33H118.41ZM117.91 41.57H164.11V43.29H117.91ZM109.98 44.54H163.61V46.26H109.98ZM131.40 47.51H159.56V49.23H131.40ZM107.45 50.47H155.68V52.19H107.45ZM115.04 53.44H154.50V55.16H115.04ZM118.92 56.41H154.00V58.13H118.92ZM106.61 59.37H153.66V61.09H106.61ZM123.31 62.34H153.66V64.06H123.31ZM106.61 65.31H152.31V67.03H106.61ZM116.73 68.27H148.94V69.99H116.73ZM105.77 71.24H148.94V72.96H105.77ZM109.98 74.21H148.94V75.93H109.98ZM112.51 77.17H148.94V78.89H112.51ZM97.34 80.14H145.56V81.86H97.34ZM101.05 83.11H143.88V84.83H101.05ZM107.45 86.07H140.51V87.79H107.45ZM109.66 89.04H140.00V90.76H109.66ZM95.24 92.01H138.88V93.73H95.24ZM100.86 94.97H138.31V96.69H100.86ZM99.55 97.94H137.75V99.66H99.55ZM86.82 100.91H137.38V102.63H86.82ZM97.12 103.87H137.00V105.59H97.12ZM95.81 106.84H136.44V108.56H95.81ZM99.55 109.81H136.07V111.53H99.55ZM92.06 112.77H135.51V114.49H92.06ZM96.18 115.74H135.13V117.46H96.18ZM95.81 118.71H134.76V120.43H95.81ZM97.12 121.67H134.38V123.39H97.12ZM94.31 124.64H134.01V126.36H94.31ZM95.24 127.61H133.63V129.33H95.24ZM96.18 130.57H133.07V132.29H96.18ZM94.31 133.54H132.70V135.26H94.31ZM103.67 136.51H132.32V138.23H103.67ZM90.56 139.47H131.95V141.19H90.56ZM90.94 142.44H131.76V144.16H90.94ZM105.54 145.41H131.39V147.13H105.54ZM94.31 148.37H131.01V150.09H94.31ZM91.50 151.34H130.82V153.06H91.50ZM90.94 154.31H130.45V156.03H90.94ZM89.63 157.28H129.89V159.00H89.63ZM94.68 160.24H129.51V161.96H94.68ZM94.31 163.21H128.95V164.93H94.31ZM92.43 166.18H128.58V167.90H92.43ZM92.06 169.14H128.01V170.86H92.06ZM89.63 172.11H127.64V173.83H89.63ZM90.56 175.08H127.27V176.80H90.56ZM94.31 178.04H126.89V179.76H94.31ZM86.82 181.01H126.52V182.73H86.82ZM85.88 183.98H126.14V185.70H85.88ZM85.88 186.94H126.14V188.66H85.88ZM84.57 189.91H125.77V191.63H84.57ZM97.12 192.88H125.21V194.60H97.12ZM90.56 195.84H124.64V197.56H90.56ZM85.88 198.81H123.90V200.53H85.88ZM89.06 201.78H123.33V203.50H89.06ZM90.19 204.74H122.96V206.46H90.19ZM90.94 207.71H122.40V209.43H90.94ZM90.19 210.68H122.02V212.40H90.19ZM89.06 213.64H121.65V215.36H89.06ZM80.26 216.61H121.27V218.33H80.26ZM89.06 219.58H120.90V221.30H89.06ZM76.52 222.54H120.52V224.26H76.52ZM85.88 225.51H120.15V227.23H85.88ZM89.06 228.48H119.59V230.20H89.06ZM89.06 231.44H119.03V233.16H89.06ZM90.19 234.41H118.65V236.13H90.19ZM97.12 237.38H118.09V239.10H97.12ZM88.31 240.34H117.53V242.06H88.31ZM87.75 243.31H116.78V245.03H87.75ZM91.50 246.28H116.40V248.00H91.50ZM78.39 249.24H115.84V250.96H78.39ZM78.39 252.21H114.91V253.93H78.39ZM79.33 255.18H113.97V256.90H79.33ZM52.73 258.14H112.10V259.86H52.73ZM76.52 261.11H111.16V262.83H76.52ZM86.44 264.08H110.79V265.80H86.44ZM76.52 267.04H110.22V268.76H76.52ZM74.64 270.01H109.66V271.73H74.64ZM78.39 272.98H108.91V274.70H78.39ZM80.26 275.94H107.79V277.66H80.26ZM84.94 278.91H107.04V280.63H84.94ZM80.26 281.88H106.10V283.60H80.26ZM80.26 284.84H105.92V286.56H80.26ZM50.86 287.81H105.54V289.53H50.86ZM82.13 290.78H105.17V292.50H82.13ZM74.64 293.74H104.61V295.46H74.64ZM74.64 296.71H104.04V298.43H74.64ZM61.54 299.68H103.67V301.40H61.54ZM84.94 302.64H103.30V304.36H84.94ZM83.45 305.61H102.73V307.33H83.45ZM69.59 308.58H102.17V310.30H69.59ZM74.64 311.54H101.42V313.26H74.64ZM60.97 314.51H100.86V316.23H60.97ZM60.97 317.48H100.30V319.20H60.97ZM65.84 320.44H99.55V322.16H65.84ZM63.97 323.41H98.99V325.13H63.97ZM62.85 326.38H98.05V328.10H62.85ZM60.60 329.34H97.12V331.06H60.60ZM75.21 332.31H96.18V334.03H75.21ZM54.04 335.28H95.43V337.00H54.04ZM76.52 338.24H94.68V339.96H76.52ZM55.36 341.21H93.93V342.93H55.36ZM55.92 344.18H93.37V345.90H55.92ZM71.84 347.14H92.81V348.86H71.84ZM74.64 350.11H92.43V351.83H74.64ZM58.73 353.08H92.06V354.80H58.73ZM60.60 356.04H91.69V357.76H60.60ZM57.79 359.01H91.31V360.73H57.79ZM57.79 361.98H90.94V363.70H57.79ZM55.92 364.94H90.56V366.66H55.92ZM55.36 367.91H90.19V369.63H55.36ZM54.98 370.88H89.81V372.60H54.98ZM58.35 373.84H89.06V375.56H58.35ZM57.23 376.81H88.31V378.53H57.23ZM63.97 379.78H87.19V381.50H63.97ZM60.60 382.74H86.44V384.46H60.60ZM56.48 385.71H84.94V387.43H56.48ZM58.35 388.68H84.57V390.40H58.35ZM54.04 391.64H84.19V393.36H54.04ZM59.66 394.61H83.82V396.33H59.66ZM51.61 397.58H83.45V399.30H51.61ZM55.36 400.54H83.07V402.26H55.36ZM55.92 403.51H82.70V405.23H55.92ZM55.92 406.48H82.32V408.20H55.92ZM59.66 409.44H81.95V411.16H59.66ZM52.73 412.41H81.57V414.13H52.73ZM53.48 415.38H81.20V417.10H53.48ZM52.73 418.34H80.82V420.06H52.73ZM54.61 421.31H80.45V423.03H54.61ZM54.04 424.28H80.07V426.00H54.04ZM54.61 427.24H79.70V428.96H54.61ZM54.04 430.21H79.33V431.93H54.04ZM57.23 433.18H78.95V434.90H57.23ZM53.11 436.14H78.58V437.86H53.11ZM53.48 439.11H78.20V440.83H53.48ZM52.73 442.08H77.83V443.80H52.73ZM52.73 445.04H77.45V446.76H52.73ZM52.73 448.01H77.08V449.73H52.73ZM52.73 450.98H76.70V452.70H52.73ZM61.54 453.94H76.33V455.67H61.54ZM61.63 456.91H76.04V458.63H61.63ZM53.11 459.88H76.04V461.60H53.11ZM52.45 462.85H75.65V464.57H52.45ZM57.04 465.81H75.12V467.53H57.04ZM53.37 468.78H74.86V470.50H53.37ZM50.75 471.75H74.60V473.47H50.75ZM51.14 474.71H72.77V476.43H51.14ZM52.06 477.68H71.19V479.40H52.06ZM50.48 480.65H70.80V482.37H50.48ZM48.91 483.61H68.83V485.33H48.91ZM52.45 486.58H68.18V488.30H52.45ZM50.75 489.55H66.87V491.27H50.75ZM51.14 492.51H66.21V494.23H51.14ZM50.75 495.48H65.56V497.20H50.75ZM48.13 498.45H63.59V500.17H48.13ZM52.45 501.41H61.63V503.13H52.45ZM49.83 504.38H60.71V506.10H49.83ZM45.50 507.35H51.80V509.07H45.50Z" fill="#F8766D"/>
<path d="M75.96 92.01H77.45V93.73H75.96ZM70.90 130.57H74.64V132.29H70.90Z" fill="#00BFC4"/>
<circle cx="210.4" cy="9.80" r="1.95" fill="#45B500"/>
<circle cx="210.4" cy="12.77" r="1.95" fill="#F8766D"/>
<circle cx="210.4" cy="15.73" r="1.95" fill="#45B500"/>
<circle cx="210.4" cy="18.70" r="1.95" fill="#F8766D"/>
<circle cx="210.4" cy="21.67" r="1.95" fill="#45B500"/>
<circle cx="210.4" cy="24.63" r="1.95" fill="#F8766D"/>
<circle cx="210.4" cy="27.60" r="1.95" fill="#F8766D"/>
<circle cx="210.4" cy="30.57" r="1.95" fill="#F8766D"/>
<circle cx="210.4" cy="33.53" r="1.95" fill="#D277FF"/>
<circle cx="210.4" cy="36.50" r="1.95" fill="#F8766D"/>
<circle cx="210.4" cy="39.47" r="1.95" fill="#F8766D"/>
<circle cx="210.4" cy="42.43" r="1.95" fill="#F8766D"/>
<circle cx="210.4" cy="45.40" r="1.95" fill="#00BC51"/>
<circle cx="210.4" cy="48.37" r="1.95" fill="#F8766D"/>
<circle cx="210.4" cy="51.33" r="1.95" fill="#FF61C7"/>
<circle cx="210.4" cy="54.30" r="1.95" fill="#45B500"/>
<circle cx="210.4" cy="57.27" r="1.95" fill="#F8766D"/>
<circle cx="210.4" cy="60.23" r="1.95" fill="#FF61C7"/>
<circle cx="210.4" cy="63.20" r="1.95" fill="#F8766D"/>
<circle cx="210.4" cy="66.17" r="1.95" fill="#F8766D"/>
<circle cx="210.4" cy="69.13" r="1.95" fill="#F8766D"/>
<circle cx="210.4" cy="72.10" r="1.95" fill="#9C8DFF"/>
<circle cx="210.4" cy="75.07" r="1.95" fill="#D277FF"/>
<circle cx="210.4" cy="78.03" r="1.95" fill="#F8766D"/>
<circle cx="210.4" cy="81.00" r="1.95" fill="#F8766D"/>
<circle cx="210.4" cy="83.97" r="1.95" fill="#D277FF"/>
<circle cx="210.4" cy="86.93" r="1.95" fill="#F8766D"/>
<circle cx="210.4" cy="89.90" r="1.95" fill="#F8766D"/>
<circle cx="210.4" cy="92.87" r="1.95" fill="#F8766D"/>
<circle cx="210.4" cy="95.83" r="1.95" fill="#F166E8"/>
<circle cx="210.4" cy="98.80" r="1.95" fill="#D277FF"/>
<circle cx="210.4" cy="101.77" r="1.95" fill="#F8766D"/>
<circle cx="210.4" cy="104.73" r="1.95" fill="#D277FF"/>
<circle cx="210.4" cy="107.70" r="1.95" fill="#89AC00"/>
<circle cx="210.4" cy="110.67" r="1.95" fill="#00BC51"/>
<circle cx="210.4" cy="113.63" r="1.95" fill="#B2A100"/>
<circle cx="210.4" cy="116.60" r="1.95" fill="#D277FF"/>
<circle cx="210.4" cy="119.57" r="1.95" fill="#D277FF"/>
<circle cx="210.4" cy="122.53" r="1.95" fill="#D277FF"/>
<circle cx="210.4" cy="125.50" r="1.95" fill="#D277FF"/>
<circle cx="210.4" cy="128.47" r="1.95" fill="#D277FF"/>
<circle cx="210.4" cy="131.43" r="1.95" fill="#F8766D"/>
<circle cx="210.4" cy="134.40" r="1.95" fill="#D277FF"/>
<circle cx="210.4" cy="137.37" r="1.95" fill="#D277FF"/>
<circle cx="210.4" cy="140.33" r="1.95" fill="#F8766D"/>
<circle cx="210.4" cy="143.30" r="1.95" fill="#D277FF"/>
<circle cx="210.4" cy="146.27" r="1.95" fill="#F8766D"/>
<circle cx="210.4" cy="149.23" r="1.95" fill="#D277FF"/>
<circle cx="210.4" cy="152.20" r="1.95" fill="#00B3F2"/>
<circle cx="210.4" cy="155.17" r="1.95" fill="#D277FF"/>
<circle cx="210.4" cy="158.14" r="1.95" fill="#F8766D"/>
<circle cx="210.4" cy="161.10" r="1.95" fill="#F166E8"/>
<circle cx="210.4" cy="164.07" r="1.95" fill="#D277FF"/>
<circle cx="210.4" cy="167.04" r="1.95" fill="#D277FF"/>
<circle cx="210.4" cy="170.00" r="1.95" fill="#F8766D"/>
<circle cx="210.4" cy="172.97" r="1.95" fill="#D277FF"/>
<circle cx="210.4" cy="175.94" r="1.95" fill="#D277FF"/>
<circle cx="210.4" cy="178.90" r="1.95" fill="#F8766D"/>
<circle cx="210.4" cy="181.87" r="1.95" fill="#D277FF"/>
<circle cx="210.4" cy="184.84" r="1.95" fill="#D277FF"/>
<circle cx="210.4" cy="187.80" r="1.95" fill="#F8766D"/>
<circle cx="210.4" cy="190.77" r="1.95" fill="#89AC00"/>
<circle cx="210.4" cy="193.74" r="1.95" fill="#F8766D"/>
<circle cx="210.4" cy="196.70" r="1.95" fill="#D277FF"/>
<circle cx="210.4" cy="199.67" r="1.95" fill="#D277FF"/>
<circle cx="210.4" cy="202.64" r="1.95" fill="#F8766D"/>
<circle cx="210.4" cy="205.60" r="1.95" fill="#F8766D"/>
<circle cx="210.4" cy="208.57" r="1.95" fill="#D277FF"/>
<circle cx="210.4" cy="211.54" r="1.95" fill="#D277FF"/>
<circle cx="210.4" cy="214.50" r="1.95" fill="#F8766D"/>
<circle cx="210.4" cy="217.47" r="1.95" fill="#D277FF"/>
<circle cx="210.4" cy="220.44" r="1.95" fill="#D277FF"/>
<circle cx="210.4" cy="223.40" r="1.95" fill="#00B3F2"/>
<circle cx="210.4" cy="226.37" r="1.95" fill="#F8766D"/>
<circle cx="210.4" cy="229.34" r="1.95" fill="#D277FF"/>
<circle cx="210.4" cy="232.30" r="1.95" fill="#D277FF"/>
<circle cx="210.4" cy="235.27" r="1.95" fill="#D277FF"/>
<circle cx="210.4" cy="238.24" r="1.95" fill="#00C087"/>
<circle cx="210.4" cy="241.20" r="1.95" fill="#F8766D"/>
<circle cx="210.4" cy="244.17" r="1.95" fill="#D277FF"/>
<circle cx="210.4" cy="247.14" r="1.95" fill="#F8766D"/>
<circle cx="210.4" cy="250.10" r="1.95" fill="#D09400"/>
<circle cx="210.4" cy="253.07" r="1.95" fill="#00B3F2"/>
<circle cx="210.4" cy="256.04" r="1.95" fill="#D277FF"/>
<circle cx="210.4" cy="259.00" r="1.95" fill="#F8766D"/>
<circle cx="210.4" cy="261.97" r="1.95" fill="#F8766D"/>
<circle cx="210.4" cy="264.94" r="1.95" fill="#D277FF"/>
<circle cx="210.4" cy="267.90" r="1.95" fill="#D277FF"/>
<circle cx="210.4" cy="270.87" r="1.95" fill="#89AC00"/>
<circle cx="210.4" cy="273.84" r="1.95" fill="#F8766D"/>
<circle cx="210.4" cy="276.80" r="1.95" fill="#F166E8"/>
<circle cx="210.4" cy="279.77" r="1.95" fill="#F8766D"/>
<circle cx="210.4" cy="282.74" r="1.95" fill="#F166E8"/>
<circle cx="210.4" cy="285.70" r="1.95" fill="#F166E8"/>
<circle cx="210.4" cy="288.67" r="1.95" fill="#F8766D"/>
<circle cx="210.4" cy="291.64" r="1.95" fill="#D277FF"/>
<circle cx="210.4" cy="294.60" r="1.95" fill="#F8766D"/>
<circle cx="210.4" cy="297.57" r="1.95" fill="#D277FF"/>
<circle cx="210.4" cy="300.54" r="1.95" fill="#89AC00"/>
<circle cx="210.4" cy="303.50" r="1.95" fill="#F8766D"/>
<circle cx="210.4" cy="306.47" r="1.95" fill="#F8766D"/>
<circle cx="210.4" cy="309.44" r="1.95" fill="#E7851E"/>
<circle cx="210.4" cy="312.40" r="1.95" fill="#E7851E"/>
<circle cx="210.4" cy="315.37" r="1.95" fill="#00C0B2"/>
<circle cx="210.4" cy="318.34" r="1.95" fill="#89AC00"/>
<circle cx="210.4" cy="321.30" r="1.95" fill="#F8766D"/>
<circle cx="210.4" cy="324.27" r="1.95" fill="#00B3F2"/>
<circle cx="210.4" cy="327.24" r="1.95" fill="#00B3F2"/>
<circle cx="210.4" cy="330.20" r="1.95" fill="#00C0B2"/>
<circle cx="210.4" cy="333.17" r="1.95" fill="#00BCD6"/>
<circle cx="210.4" cy="336.14" r="1.95" fill="#89AC00"/>
<circle cx="210.4" cy="339.10" r="1.95" fill="#89AC00"/>
<circle cx="210.4" cy="342.07" r="1.95" fill="#F8766D"/>
<circle cx="210.4" cy="345.04" r="1.95" fill="#89AC00"/>
<circle cx="210.4" cy="348.00" r="1.95" fill="#D277FF"/>
<circle cx="210.4" cy="350.97" r="1.95" fill="#F8766D"/>
<circle cx="210.4" cy="353.94" r="1.95" fill="#FF689E"/>
<circle cx="210.4" cy="356.90" r="1.95" fill="#89AC00"/>
<circle cx="210.4" cy="359.87" r="1.95" fill="#D277FF"/>
<circle cx="210.4" cy="362.84" r="1.95" fill="#D277FF"/>
<circle cx="210.4" cy="365.80" r="1.95" fill="#89AC00"/>
<circle cx="210.4" cy="368.77" r="1.95" fill="#89AC00"/>
<circle cx="210.4" cy="371.74" r="1.95" fill="#89AC00"/>
<circle cx="210.4" cy="374.70" r="1.95" fill="#D277FF"/>
<circle cx="210.4" cy="377.67" r="1.95" fill="#D277FF"/>
<circle cx="210.4" cy="380.64" r="1.95" fill="#45B500"/>
<circle cx="210.4" cy="383.60" r="1.95" fill="#89AC00"/>
<circle cx="210.4" cy="386.57" r="1.95" fill="#89AC00"/>
<circle cx="210.4" cy="389.54" r="1.95" fill="#F8766D"/>
<circle cx="210.4" cy="392.50" r="1.95" fill="#F166E8"/>
<circle cx="210.4" cy="395.47" r="1.95" fill="#FF61C7"/>
<circle cx="210.4" cy="398.44" r="1.95" fill="#D277FF"/>
<circle cx="210.4" cy="401.40" r="1.95" fill="#89AC00"/>
<circle cx="210.4" cy="404.37" r="1.95" fill="#89AC00"/>
<circle cx="210.4" cy="407.34" r="1.95" fill="#D277FF"/>
<circle cx="210.4" cy="410.30" r="1.95" fill="#89AC00"/>
<circle cx="210.4" cy="413.27" r="1.95" fill="#89AC00"/>
<circle cx="210.4" cy="416.24" r="1.95" fill="#89AC00"/>
<circle cx="210.4" cy="419.20" r="1.95" fill="#89AC00"/>
<circle cx="210.4" cy="422.17" r="1.95" fill="#89AC00"/>
<circle cx="210.4" cy="425.14" r="1.95" fill="#89AC00"/>
<circle cx="210.4" cy="428.10" r="1.95" fill="#89AC00"/>
<circle cx="210.4" cy="431.07" r="1.95" fill="#89AC00"/>
<circle cx="210.4" cy="434.04" r="1.95" fill="#89AC00"/>
<circle cx="210.4" cy="437.00" r="1.95" fill="#89AC00"/>
<circle cx="210.4" cy="439.97" r="1.95" fill="#89AC00"/>
<circle cx="210.4" cy="442.94" r="1.95" fill="#89AC00"/>
<circle cx="210.4" cy="445.90" r="1.95" fill="#89AC00"/>
<circle cx="210.4" cy="448.87" r="1.95" fill="#89AC00"/>
<circle cx="210.4" cy="451.84" r="1.95" fill="#89AC00"/>
<circle cx="210.4" cy="454.81" r="1.95" fill="#00BCD6"/>
<circle cx="210.4" cy="457.77" r="1.95" fill="#F166E8"/>
<circle cx="210.4" cy="460.74" r="1.95" fill="#F166E8"/>
<circle cx="210.4" cy="463.71" r="1.95" fill="#89AC00"/>
<circle cx="210.4" cy="466.67" r="1.95" fill="#89AC00"/>
<circle cx="210.4" cy="469.64" r="1.95" fill="#89AC00"/>
<circle cx="210.4" cy="472.61" r="1.95" fill="#89AC00"/>
<circle cx="210.4" cy="475.57" r="1.95" fill="#89AC00"/>
<circle cx="210.4" cy="478.54" r="1.95" fill="#00B3F2"/>
<circle cx="210.4" cy="481.51" r="1.95" fill="#89AC00"/>
<circle cx="210.4" cy="484.47" r="1.95" fill="#89AC00"/>
<circle cx="210.4" cy="487.44" r="1.95" fill="#F8766D"/>
<circle cx="210.4" cy="490.41" r="1.95" fill="#45B500"/>
<circle cx="210.4" cy="493.37" r="1.95" fill="#89AC00"/>
<circle cx="210.4" cy="496.34" r="1.95" fill="#E7851E"/>
<circle cx="210.4" cy="499.31" r="1.95" fill="#F8766D"/>
<circle cx="210.4" cy="502.27" r="1.95" fill="#89AC00"/>
<circle cx="210.4" cy="505.24" r="1.95" fill="#89AC00"/>
<circle cx="210.4" cy="508.21" r="1.95" fill="#D277FF"/>
<circle cx="210.4" cy="511.17" r="1.95" fill="#F8766D"/>
<circle cx="210.4" cy="514.14" r="1.95" fill="#F8766D"/>
<circle cx="210.4" cy="517.11" r="1.95" fill="#D277FF"/>
<rect x="35.2" y="7.7" width="184.0" height="511.09999999999997" fill="none" stroke="#333" stroke-width="1.1"/>
<path d="M32.00 9.80H35.2M32.00 12.77H35.2M32.00 15.73H35.2M32.00 18.70H35.2M32.00 21.67H35.2M32.00 24.63H35.2M32.00 27.60H35.2M32.00 30.57H35.2M32.00 33.53H35.2M32.00 36.50H35.2M32.00 39.47H35.2M32.00 42.43H35.2M32.00 45.40H35.2M32.00 48.37H35.2M32.00 51.33H35.2M32.00 54.30H35.2M32.00 57.27H35.2M32.00 60.23H35.2M32.00 63.20H35.2M32.00 66.17H35.2M32.00 69.13H35.2M32.00 72.10H35.2M32.00 75.07H35.2M32.00 78.03H35.2M32.00 81.00H35.2M32.00 83.97H35.2M32.00 86.93H35.2M32.00 89.90H35.2M32.00 92.87H35.2M32.00 95.83H35.2M32.00 98.80H35.2M32.00 101.77H35.2M32.00 104.73H35.2M32.00 107.70H35.2M32.00 110.67H35.2M32.00 113.63H35.2M32.00 116.60H35.2M32.00 119.57H35.2M32.00 122.53H35.2M32.00 125.50H35.2M32.00 128.47H35.2M32.00 131.43H35.2M32.00 134.40H35.2M32.00 137.37H35.2M32.00 140.33H35.2M32.00 143.30H35.2M32.00 146.27H35.2M32.00 149.23H35.2M32.00 152.20H35.2M32.00 155.17H35.2M32.00 158.14H35.2M32.00 161.10H35.2M32.00 164.07H35.2M32.00 167.04H35.2M32.00 170.00H35.2M32.00 172.97H35.2M32.00 175.94H35.2M32.00 178.90H35.2M32.00 181.87H35.2M32.00 184.84H35.2M32.00 187.80H35.2M32.00 190.77H35.2M32.00 193.74H35.2M32.00 196.70H35.2M32.00 199.67H35.2M32.00 202.64H35.2M32.00 205.60H35.2M32.00 208.57H35.2M32.00 211.54H35.2M32.00 214.50H35.2M32.00 217.47H35.2M32.00 220.44H35.2M32.00 223.40H35.2M32.00 226.37H35.2M32.00 229.34H35.2M32.00 232.30H35.2M32.00 235.27H35.2M32.00 238.24H35.2M32.00 241.20H35.2M32.00 244.17H35.2M32.00 247.14H35.2M32.00 250.10H35.2M32.00 253.07H35.2M32.00 256.04H35.2M32.00 259.00H35.2M32.00 261.97H35.2M32.00 264.94H35.2M32.00 267.90H35.2M32.00 270.87H35.2M32.00 273.84H35.2M32.00 276.80H35.2M32.00 279.77H35.2M32.00 282.74H35.2M32.00 285.70H35.2M32.00 288.67H35.2M32.00 291.64H35.2M32.00 294.60H35.2M32.00 297.57H35.2M32.00 300.54H35.2M32.00 303.50H35.2M32.00 306.47H35.2M32.00 309.44H35.2M32.00 312.40H35.2M32.00 315.37H35.2M32.00 318.34H35.2M32.00 321.30H35.2M32.00 324.27H35.2M32.00 327.24H35.2M32.00 330.20H35.2M32.00 333.17H35.2M32.00 336.14H35.2M32.00 339.10H35.2M32.00 342.07H35.2M32.00 345.04H35.2M32.00 348.00H35.2M32.00 350.97H35.2M32.00 353.94H35.2M32.00 356.90H35.2M32.00 359.87H35.2M32.00 362.84H35.2M32.00 365.80H35.2M32.00 368.77H35.2M32.00 371.74H35.2M32.00 374.70H35.2M32.00 377.67H35.2M32.00 380.64H35.2M32.00 383.60H35.2M32.00 386.57H35.2M32.00 389.54H35.2M32.00 392.50H35.2M32.00 395.47H35.2M32.00 398.44H35.2M32.00 401.40H35.2M32.00 404.37H35.2M32.00 407.34H35.2M32.00 410.30H35.2M32.00 413.27H35.2M32.00 416.24H35.2M32.00 419.20H35.2M32.00 422.17H35.2M32.00 425.14H35.2M32.00 428.10H35.2M32.00 431.07H35.2M32.00 434.04H35.2M32.00 437.00H35.2M32.00 439.97H35.2M32.00 442.94H35.2M32.00 445.90H35.2M32.00 448.87H35.2M32.00 451.84H35.2M32.00 454.81H35.2M32.00 457.77H35.2M32.00 460.74H35.2M32.00 463.71H35.2M32.00 466.67H35.2M32.00 469.64H35.2M32.00 472.61H35.2M32.00 475.57H35.2M32.00 478.54H35.2M32.00 481.51H35.2M32.00 484.47H35.2M32.00 487.44H35.2M32.00 490.41H35.2M32.00 493.37H35.2M32.00 496.34H35.2M32.00 499.31H35.2M32.00 502.27H35.2M32.00 505.24H35.2M32.00 508.21H35.2M32.00 511.17H35.2M32.00 514.14H35.2M32.00 517.11H35.2" stroke="#222" stroke-width="1.25" fill="none"/>
<text x="30.60" y="10.85" font-size="3.0" text-anchor="end" fill="#4D4D4D">Rhisu1</text>
<text x="30.60" y="13.82" font-size="3.0" text-anchor="end" fill="#4D4D4D">Ibba1</text>
<text x="30.60" y="16.78" font-size="3.0" text-anchor="end" fill="#4D4D4D">Tulca1</text>
<text x="30.60" y="19.75" font-size="3.0" text-anchor="end" fill="#4D4D4D">PleosPC15_2</text>
<text x="30.60" y="22.72" font-size="3.0" text-anchor="end" fill="#4D4D4D">CerAGI</text>
<text x="30.60" y="25.68" font-size="3.0" text-anchor="end" fill="#4D4D4D">Monpe1_1</text>
<text x="30.60" y="28.65" font-size="3.0" text-anchor="end" fill="#4D4D4D">Plepu1</text>
<text x="30.60" y="31.62" font-size="3.0" text-anchor="end" fill="#4D4D4D">Ompol1</text>
<text x="30.60" y="34.58" font-size="3.0" text-anchor="end" fill="#4D4D4D">Rigmic1</text>
<text x="30.60" y="37.55" font-size="3.0" text-anchor="end" fill="#4D4D4D">Paxpa1</text>
<text x="30.60" y="40.52" font-size="3.0" text-anchor="end" fill="#4D4D4D">Pleos1_1</text>
<text x="30.60" y="43.48" font-size="3.0" text-anchor="end" fill="#4D4D4D">Lenpe1</text>
<text x="30.60" y="46.45" font-size="3.0" text-anchor="end" fill="#4D4D4D">DaeNEmod</text>
<text x="30.60" y="49.42" font-size="3.0" text-anchor="end" fill="#4D4D4D">Pleery1</text>
<text x="30.60" y="52.38" font-size="3.0" text-anchor="end" fill="#4D4D4D">Ibbv1</text>
<text x="30.60" y="55.35" font-size="3.0" text-anchor="end" fill="#4D4D4D">Botbo1</text>
<text x="30.60" y="58.32" font-size="3.0" text-anchor="end" fill="#4D4D4D">Lyde1</text>
<text x="30.60" y="61.28" font-size="3.0" text-anchor="end" fill="#4D4D4D">Sispu1</text>
<text x="30.60" y="64.25" font-size="3.0" text-anchor="end" fill="#4D4D4D">PleosPC9_1</text>
<text x="30.60" y="67.22" font-size="3.0" text-anchor="end" fill="#4D4D4D">Amat2</text>
<text x="30.60" y="70.18" font-size="3.0" text-anchor="end" fill="#4D4D4D">Cylto1</text>
<text x="30.60" y="73.15" font-size="3.0" text-anchor="end" fill="#4D4D4D">Jaaar1</text>
<text x="30.60" y="76.12" font-size="3.0" text-anchor="end" fill="#4D4D4D">Abobie1</text>
<text x="30.60" y="79.08" font-size="3.0" text-anchor="end" fill="#4D4D4D">Lopnu1</text>
<text x="30.60" y="82.05" font-size="3.0" text-anchor="end" fill="#4D4D4D">Lenvi1</text>
<text x="30.60" y="85.02" font-size="3.0" text-anchor="end" fill="#4D4D4D">Trapu1</text>
<text x="30.60" y="87.98" font-size="3.0" text-anchor="end" fill="#4D4D4D">Bisnu1</text>
<text x="30.60" y="90.95" font-size="3.0" text-anchor="end" fill="#4D4D4D">Armme1_1</text>
<text x="30.60" y="93.92" font-size="3.0" text-anchor="end" fill="#4D4D4D">Panst1</text>
<text x="30.60" y="96.88" font-size="3.0" text-anchor="end" fill="#4D4D4D">Spha1</text>
<text x="30.60" y="99.85" font-size="3.0" text-anchor="end" fill="#4D4D4D">Polsqu1</text>
<text x="30.60" y="102.82" font-size="3.0" text-anchor="end" fill="#4D4D4D">Gymjun1</text>
<text x="30.60" y="105.78" font-size="3.0" text-anchor="end" fill="#4D4D4D">Fombet1</text>
<text x="30.60" y="108.75" font-size="3.0" text-anchor="end" fill="#4D4D4D">Hydpi2</text>
<text x="30.60" y="111.72" font-size="3.0" text-anchor="end" fill="#4D4D4D">Pycco1</text>
<text x="30.60" y="114.68" font-size="3.0" text-anchor="end" fill="#4D4D4D">Calvi1</text>
<text x="30.60" y="117.65" font-size="3.0" text-anchor="end" fill="#4D4D4D">HydfiH</text>
<text x="30.60" y="120.62" font-size="3.0" text-anchor="end" fill="#4D4D4D">Lenti7</text>
<text x="30.60" y="123.58" font-size="3.0" text-anchor="end" fill="#4D4D4D">Fompi3</text>
<text x="30.60" y="126.55" font-size="3.0" text-anchor="end" fill="#4D4D4D">Trave1</text>
<text x="30.60" y="129.52" font-size="3.0" text-anchor="end" fill="#4D4D4D">Trabe1</text>
<text x="30.60" y="132.48" font-size="3.0" text-anchor="end" fill="#4D4D4D">Galma1</text>
<text x="30.60" y="135.45" font-size="3.0" text-anchor="end" fill="#4D4D4D">Pilcr1</text>
<text x="30.60" y="138.42" font-size="3.0" text-anchor="end" fill="#4D4D4D">Stehi1</text>
<text x="30.60" y="141.38" font-size="3.0" text-anchor="end" fill="#4D4D4D">Dicsq1</text>
<text x="30.60" y="144.35" font-size="3.0" text-anchor="end" fill="#4D4D4D">Punst1</text>
<text x="30.60" y="147.32" font-size="3.0" text-anchor="end" fill="#4D4D4D">Fomme1</text>
<text x="30.60" y="150.28" font-size="3.0" text-anchor="end" fill="#4D4D4D">Obbri1</text>
<text x="30.60" y="153.25" font-size="3.0" text-anchor="end" fill="#4D4D4D">Antphy1</text>
<text x="30.60" y="156.22" font-size="3.0" text-anchor="end" fill="#4D4D4D">Fisha1</text>
<text x="30.60" y="159.19" font-size="3.0" text-anchor="end" fill="#4D4D4D">Monlu1</text>
<text x="30.60" y="162.15" font-size="3.0" text-anchor="end" fill="#4D4D4D">Rasur1</text>
<text x="30.60" y="165.12" font-size="3.0" text-anchor="end" fill="#4D4D4D">Gloin1_1</text>
<text x="30.60" y="168.09" font-size="3.0" text-anchor="end" fill="#4D4D4D">Piptet1_1</text>
<text x="30.60" y="171.05" font-size="3.0" text-anchor="end" fill="#4D4D4D">Daequ1</text>
<text x="30.60" y="174.02" font-size="3.0" text-anchor="end" fill="#4D4D4D">Wolco1</text>
<text x="30.60" y="176.99" font-size="3.0" text-anchor="end" fill="#4D4D4D">Fibra1</text>
<text x="30.60" y="179.95" font-size="3.0" text-anchor="end" fill="#4D4D4D">Thega1</text>
<text x="30.60" y="182.92" font-size="3.0" text-anchor="end" fill="#4D4D4D">Posp1</text>
<text x="30.60" y="185.89" font-size="3.0" text-anchor="end" fill="#4D4D4D">Gyli1</text>
<text x="30.60" y="188.85" font-size="3.0" text-anchor="end" fill="#4D4D4D">PhlFC14_2</text>
<text x="30.60" y="191.82" font-size="3.0" text-anchor="end" fill="#4D4D4D">Paxam1</text>
<text x="30.60" y="194.79" font-size="3.0" text-anchor="end" fill="#4D4D4D">Thelan1</text>
<text x="30.60" y="197.75" font-size="3.0" text-anchor="end" fill="#4D4D4D">Suibov1</text>
<text x="30.60" y="200.72" font-size="3.0" text-anchor="end" fill="#4D4D4D">Hyrsub1</text>
<text x="30.60" y="203.69" font-size="3.0" text-anchor="end" fill="#4D4D4D">Phlbr1</text>
<text x="30.60" y="206.65" font-size="3.0" text-anchor="end" fill="#4D4D4D">Serlac3</text>
<text x="30.60" y="209.62" font-size="3.0" text-anchor="end" fill="#4D4D4D">Gansp1</text>
<text x="30.60" y="212.59" font-size="3.0" text-anchor="end" fill="#4D4D4D">Lacbi2</text>
<text x="30.60" y="215.55" font-size="3.0" text-anchor="end" fill="#4D4D4D">Amamu1</text>
<text x="30.60" y="218.52" font-size="3.0" text-anchor="end" fill="#4D4D4D">Pismi2</text>
<text x="30.60" y="221.49" font-size="3.0" text-anchor="end" fill="#4D4D4D">Pisti2</text>
<text x="30.60" y="224.45" font-size="3.0" text-anchor="end" fill="#4D4D4D">Sclci1</text>
<text x="30.60" y="227.42" font-size="3.0" text-anchor="end" fill="#4D4D4D">Hydru2</text>
<text x="30.60" y="230.39" font-size="3.0" text-anchor="end" fill="#4D4D4D">Paxru2</text>
<text x="30.60" y="233.35" font-size="3.0" text-anchor="end" fill="#4D4D4D">Suilak1</text>
<text x="30.60" y="236.32" font-size="3.0" text-anchor="end" fill="#4D4D4D">Stesa3</text>
<text x="30.60" y="239.29" font-size="3.0" text-anchor="end" fill="#4D4D4D">Lacqu1</text>
<text x="30.60" y="242.25" font-size="3.0" text-anchor="end" fill="#4D4D4D">Suibr2</text>
<text x="30.60" y="245.22" font-size="3.0" text-anchor="end" fill="#4D4D4D">Gaumor1_1</text>
<text x="30.60" y="248.19" font-size="3.0" text-anchor="end" fill="#4D4D4D">Boled5</text>
<text x="30.60" y="251.15" font-size="3.0" text-anchor="end" fill="#4D4D4D">Suipic1</text>
<text x="30.60" y="254.12" font-size="3.0" text-anchor="end" fill="#4D4D4D">Suiame1</text>
<text x="30.60" y="257.09" font-size="3.0" text-anchor="end" fill="#4D4D4D">Suiocl1</text>
<text x="30.60" y="260.05" font-size="3.0" text-anchor="end" fill="#4D4D4D">Schpa1</text>
<text x="30.60" y="263.02" font-size="3.0" text-anchor="end" fill="#4D4D4D">Ramac1</text>
<text x="30.60" y="265.99" font-size="3.0" text-anchor="end" fill="#4D4D4D">Rhobut1_1</text>
<text x="30.60" y="268.95" font-size="3.0" text-anchor="end" fill="#4D4D4D">Lacam2</text>
<text x="30.60" y="271.92" font-size="3.0" text-anchor="end" fill="#4D4D4D">Pobr1</text>
<text x="30.60" y="274.89" font-size="3.0" text-anchor="end" fill="#4D4D4D">Hyfev1</text>
<text x="30.60" y="277.85" font-size="3.0" text-anchor="end" fill="#4D4D4D">Fiome1</text>
<text x="30.60" y="280.82" font-size="3.0" text-anchor="end" fill="#4D4D4D">Earsca1</text>
<text x="30.60" y="283.79" font-size="3.0" text-anchor="end" fill="#4D4D4D">Armost1</text>
<text x="30.60" y="286.75" font-size="3.0" text-anchor="end" fill="#4D4D4D">Armga1</text>
<text x="30.60" y="289.72" font-size="3.0" text-anchor="end" fill="#4D4D4D">Gymlu1</text>
<text x="30.60" y="292.69" font-size="3.0" text-anchor="end" fill="#4D4D4D">Galbi1</text>
<text x="30.60" y="295.65" font-size="3.0" text-anchor="end" fill="#4D4D4D">Amnosp1</text>
<text x="30.60" y="298.62" font-size="3.0" text-anchor="end" fill="#4D4D4D">Phichg1</text>
<text x="30.60" y="301.59" font-size="3.0" text-anchor="end" fill="#4D4D4D">Plucer1</text>
<text x="30.60" y="304.55" font-size="3.0" text-anchor="end" fill="#4D4D4D">Mort1</text>
<text x="30.60" y="307.52" font-size="3.0" text-anchor="end" fill="#4D4D4D">Xylyso3</text>
<text x="30.60" y="310.49" font-size="3.0" text-anchor="end" fill="#4D4D4D">Agabi_varbisH97_2</text>
<text x="30.60" y="313.45" font-size="3.0" text-anchor="end" fill="#4D4D4D">Volvo1</text>
<text x="30.60" y="316.42" font-size="3.0" text-anchor="end" fill="#4D4D4D">ClaPMI390</text>
<text x="30.60" y="319.39" font-size="3.0" text-anchor="end" fill="#4D4D4D">Sisni1</text>
<text x="30.60" y="322.35" font-size="3.0" text-anchor="end" fill="#4D4D4D">Sisni2</text>
<text x="30.60" y="325.32" font-size="3.0" text-anchor="end" fill="#4D4D4D">Pseub1_1</text>
<text x="30.60" y="328.29" font-size="3.0" text-anchor="end" fill="#4D4D4D">Blacfu1</text>
<text x="30.60" y="331.25" font-size="3.0" text-anchor="end" fill="#4D4D4D">Denbi1</text>
<text x="30.60" y="334.22" font-size="3.0" text-anchor="end" fill="#4D4D4D">Cyrnos1</text>
<text x="30.60" y="337.19" font-size="3.0" text-anchor="end" fill="#4D4D4D">Aurde3_1</text>
<text x="30.60" y="340.15" font-size="3.0" text-anchor="end" fill="#4D4D4D">Cyastr2</text>
<text x="30.60" y="343.12" font-size="3.0" text-anchor="end" fill="#4D4D4D">Hyrmar1</text>
<text x="30.60" y="346.09" font-size="3.0" text-anchor="end" fill="#4D4D4D">Penpap1</text>
<text x="30.60" y="349.05" font-size="3.0" text-anchor="end" fill="#4D4D4D">Mycgal1</text>
<text x="30.60" y="352.02" font-size="3.0" text-anchor="end" fill="#4D4D4D">Sphst1</text>
<text x="30.60" y="354.99" font-size="3.0" text-anchor="end" fill="#4D4D4D">Exigl1</text>
<text x="30.60" y="357.95" font-size="3.0" text-anchor="end" fill="#4D4D4D">Rhiso1</text>
<text x="30.60" y="360.92" font-size="3.0" text-anchor="end" fill="#4D4D4D">Corfal1</text>
<text x="30.60" y="363.89" font-size="3.0" text-anchor="end" fill="#4D4D4D">Amath1</text>
<text x="30.60" y="366.85" font-size="3.0" text-anchor="end" fill="#4D4D4D">Laugen1_1</text>
<text x="30.60" y="369.82" font-size="3.0" text-anchor="end" fill="#4D4D4D">Lamp1</text>
<text x="30.60" y="372.79" font-size="3.0" text-anchor="end" fill="#4D4D4D">Agabi_varbur_1</text>
<text x="30.60" y="375.75" font-size="3.0" text-anchor="end" fill="#4D4D4D">Copci1</text>
<text x="30.60" y="378.72" font-size="3.0" text-anchor="end" fill="#4D4D4D">Copmar1</text>
<text x="30.60" y="381.69" font-size="3.0" text-anchor="end" fill="#4D4D4D">Hebcy2</text>
<text x="30.60" y="384.65" font-size="3.0" text-anchor="end" fill="#4D4D4D">Hypsu1</text>
<text x="30.60" y="387.62" font-size="3.0" text-anchor="end" fill="#4D4D4D">Lacam1</text>
<text x="30.60" y="390.59" font-size="3.0" text-anchor="end" fill="#4D4D4D">Macfu1</text>
<text x="30.60" y="393.55" font-size="3.0" text-anchor="end" fill="#4D4D4D">Maror1</text>
<text x="30.60" y="396.52" font-size="3.0" text-anchor="end" fill="#4D4D4D">Mycepi1</text>
<text x="30.60" y="399.49" font-size="3.0" text-anchor="end" fill="#4D4D4D">Panru1</text>
<text x="30.60" y="402.45" font-size="3.0" text-anchor="end" fill="#4D4D4D">Phoal1</text>
<text x="30.60" y="405.42" font-size="3.0" text-anchor="end" fill="#4D4D4D">Phoco1</text>
<text x="30.60" y="408.39" font-size="3.0" text-anchor="end" fill="#4D4D4D">PleosPC15_1</text>
<text x="30.60" y="411.35" font-size="3.0" text-anchor="end" fill="#4D4D4D">Schco3</text>
<text x="30.60" y="414.32" font-size="3.0" text-anchor="end" fill="#4D4D4D">Terbo2</text>
<text x="30.60" y="417.29" font-size="3.0" text-anchor="end" fill="#4D4D4D">Tricit1</text>
<text x="30.60" y="420.25" font-size="3.0" text-anchor="end" fill="#4D4D4D">Triho1</text>
<text x="30.60" y="423.22" font-size="3.0" text-anchor="end" fill="#4D4D4D">Volvo2</text>
<text x="30.60" y="426.19" font-size="3.0" text-anchor="end" fill="#4D4D4D">Xerba1</text>
<text x="30.60" y="429.15" font-size="3.0" text-anchor="end" fill="#4D4D4D">Anomo1</text>
<text x="30.60" y="432.12" font-size="3.0" text-anchor="end" fill="#4D4D4D">Conpu1</text>
<text x="30.60" y="435.09" font-size="3.0" text-anchor="end" fill="#4D4D4D">Hydfim1</text>
<text x="30.60" y="438.05" font-size="3.0" text-anchor="end" fill="#4D4D4D">Leisp1</text>
<text x="30.60" y="441.02" font-size="3.0" text-anchor="end" fill="#4D4D4D">Melbi2</text>
<text x="30.60" y="443.99" font-size="3.0" text-anchor="end" fill="#4D4D4D">Paxin1</text>
<text x="30.60" y="446.95" font-size="3.0" text-anchor="end" fill="#4D4D4D">Pismi1</text>
<text x="30.60" y="449.92" font-size="3.0" text-anchor="end" fill="#4D4D4D">Pisti1</text>
<text x="30.60" y="452.89" font-size="3.0" text-anchor="end" fill="#4D4D4D">Rhivi1</text>
<text x="30.60" y="455.86" font-size="3.0" text-anchor="end" fill="#4D4D4D">Rhives1</text>
<text x="30.60" y="458.82" font-size="3.0" text-anchor="end" fill="#4D4D4D">Rhisa1</text>
<text x="30.60" y="461.79" font-size="3.0" text-anchor="end" fill="#4D4D4D">Sclci2</text>
<text x="30.60" y="464.76" font-size="3.0" text-anchor="end" fill="#4D4D4D">Serla7</text>
<text x="30.60" y="467.72" font-size="3.0" text-anchor="end" fill="#4D4D4D">Suigr1</text>
<text x="30.60" y="470.69" font-size="3.0" text-anchor="end" fill="#4D4D4D">Suipla1</text>
<text x="30.60" y="473.66" font-size="3.0" text-anchor="end" fill="#4D4D4D">Suisub1</text>
<text x="30.60" y="476.62" font-size="3.0" text-anchor="end" fill="#4D4D4D">Suiam1</text>
<text x="30.60" y="479.59" font-size="3.0" text-anchor="end" fill="#4D4D4D">Suicot1</text>
<text x="30.60" y="482.56" font-size="3.0" text-anchor="end" fill="#4D4D4D">Suidec1</text>
<text x="30.60" y="485.52" font-size="3.0" text-anchor="end" fill="#4D4D4D">Suifus1</text>
<text x="30.60" y="488.49" font-size="3.0" text-anchor="end" fill="#4D4D4D">Suihi1</text>
<text x="30.60" y="491.46" font-size="3.0" text-anchor="end" fill="#4D4D4D">Suilu4</text>
<text x="30.60" y="494.42" font-size="3.0" text-anchor="end" fill="#4D4D4D">Suiva1</text>
<text x="30.60" y="497.39" font-size="3.0" text-anchor="end" fill="#4D4D4D">Tapla1</text>
<text x="30.60" y="500.36" font-size="3.0" text-anchor="end" fill="#4D4D4D">Xerch1</text>
<text x="30.60" y="503.32" font-size="3.0" text-anchor="end" fill="#4D4D4D">Calco1</text>
<text x="30.60" y="506.29" font-size="3.0" text-anchor="end" fill="#4D4D4D">Clapy1</text>
<text x="30.60" y="509.26" font-size="3.0" text-anchor="end" fill="#4D4D4D">Hetan2</text>
<text x="30.60" y="512.22" font-size="3.0" text-anchor="end" fill="#4D4D4D">Lenpe2</text>
<text x="30.60" y="515.19" font-size="3.0" text-anchor="end" fill="#4D4D4D">Pengi1</text>
<text x="30.60" y="518.16" font-size="3.0" text-anchor="end" fill="#4D4D4D">Stere1</text>
<text x="43.30" y="528.6" font-size="8.8" text-anchor="middle" fill="#4D4D4D">0.0</text>
<text x="90.50" y="528.6" font-size="8.8" text-anchor="middle" fill="#4D4D4D">0.2</text>
<text x="137.70" y="528.6" font-size="8.8" text-anchor="middle" fill="#4D4D4D">0.4</text>
<text x="184.90" y="528.6" font-size="8.8" text-anchor="middle" fill="#4D4D4D">0.6</text>
<path d="M43.30 518.8v2.8M90.50 518.8v2.8M137.70 518.8v2.8M184.90 518.8v2.8" stroke="#333" stroke-width="0.7" fill="none"/>
<text x="130.2" y="541.7" font-size="9.95" text-anchor="middle" fill="#000" stroke="#000" stroke-width="0.18">Predicted Cellulase Frequency (%)</text>
<rect x="146.4" y="303.3" width="54.3" height="212.0" fill="#fff" stroke="#333" stroke-width="0.6"/>
<rect x="152.6" y="309.80" width="15.2" height="15.3" fill="#F8766D" stroke="#111" stroke-width="0.9"/>
<text x="173.9" y="320.65" font-size="8.65" fill="#000" stroke="#000" stroke-width="0.15">GH5</text>
<rect x="152.6" y="326.56" width="15.2" height="15.3" fill="#DE8C00" stroke="#111" stroke-width="0.9"/>
<text x="173.9" y="337.41" font-size="8.65" fill="#000" stroke="#000" stroke-width="0.15">GH6</text>
<rect x="152.6" y="343.32" width="15.2" height="15.3" fill="#B79F00" stroke="#111" stroke-width="0.9"/>
<text x="173.9" y="354.17" font-size="8.65" fill="#000" stroke="#000" stroke-width="0.15">GH7</text>
<rect x="152.6" y="360.08" width="15.2" height="15.3" fill="#7CAE00" stroke="#111" stroke-width="0.9"/>
<text x="173.9" y="370.93" font-size="8.65" fill="#000" stroke="#000" stroke-width="0.15">GH8</text>
<rect x="152.6" y="376.84" width="15.2" height="15.3" fill="#00BA38" stroke="#111" stroke-width="0.9"/>
<text x="173.9" y="387.69" font-size="8.65" fill="#000" stroke="#000" stroke-width="0.15">GH9</text>
<rect x="152.6" y="393.60" width="15.2" height="15.3" fill="#00C08B" stroke="#111" stroke-width="0.9"/>
<text x="173.9" y="404.45" font-size="8.65" fill="#000" stroke="#000" stroke-width="0.15">GH12</text>
<rect x="152.6" y="410.36" width="15.2" height="15.3" fill="#00BFC4" stroke="#111" stroke-width="0.9"/>
<text x="173.9" y="421.21" font-size="8.65" fill="#000" stroke="#000" stroke-width="0.15">GH44</text>
<rect x="152.6" y="427.12" width="15.2" height="15.3" fill="#00B4F0" stroke="#111" stroke-width="0.9"/>
<text x="173.9" y="437.97" font-size="8.65" fill="#000" stroke="#000" stroke-width="0.15">GH45</text>
<rect x="152.6" y="443.88" width="15.2" height="15.3" fill="#619CFF" stroke="#111" stroke-width="0.9"/>
<text x="173.9" y="454.73" font-size="8.65" fill="#000" stroke="#000" stroke-width="0.15">GH48</text>
<rect x="152.6" y="460.64" width="15.2" height="15.3" fill="#C77CFF" stroke="#111" stroke-width="0.9"/>
<text x="173.9" y="471.49" font-size="8.65" fill="#000" stroke="#000" stroke-width="0.15">AA9</text>
<rect x="152.6" y="477.40" width="15.2" height="15.3" fill="#F564E3" stroke="#111" stroke-width="0.9"/>
<text x="173.9" y="488.25" font-size="8.65" fill="#000" stroke="#000" stroke-width="0.15">AA10</text>
<rect x="152.6" y="494.16" width="15.2" height="15.3" fill="#FF64B0" stroke="#111" stroke-width="0.9"/>
<text x="173.9" y="505.01" font-size="8.65" fill="#000" stroke="#000" stroke-width="0.15">AA16</text>
</g>
<g id="orders">
<text x="236.4" y="90.4" font-size="10.75" fill="#000" stroke="#000" stroke-width="0.15">Orders</text>
<circle cx="239.1" cy="105.05" r="2.0" fill="#F8766D"/>
<text x="252.9" y="108.35" font-size="8.83" fill="#000" stroke="#000" stroke-width="0.15">Agaricales</text>
<circle cx="239.1" cy="121.71" r="2.0" fill="#E7851E"/>
<text x="252.9" y="125.01" font-size="8.83" fill="#000" stroke="#000" stroke-width="0.15">Amylocorticiales</text>
<circle cx="239.1" cy="138.37" r="2.0" fill="#D09400"/>
<text x="252.9" y="141.67" font-size="8.83" fill="#000" stroke="#000" stroke-width="0.15">Atheliales</text>
<circle cx="239.1" cy="155.03" r="2.0" fill="#B2A100"/>
<text x="252.9" y="158.33" font-size="8.83" fill="#000" stroke="#000" stroke-width="0.15">Auriculariales</text>
<circle cx="239.1" cy="171.69" r="2.0" fill="#89AC00"/>
<text x="252.9" y="174.99" font-size="8.83" fill="#000" stroke="#000" stroke-width="0.15">Boletales</text>
<circle cx="239.1" cy="188.35" r="2.0" fill="#45B500"/>
<text x="252.9" y="191.65" font-size="8.83" fill="#000" stroke="#000" stroke-width="0.15">Cantharellales</text>
<circle cx="326.6" cy="106.60" r="2.0" fill="#00BC51"/>
<text x="340.7" y="109.90" font-size="8.83" fill="#000" stroke="#000" stroke-width="0.15">Corticiales</text>
<circle cx="326.6" cy="123.26" r="2.0" fill="#00C087"/>
<text x="340.7" y="126.56" font-size="8.83" fill="#000" stroke="#000" stroke-width="0.15">Geastrales</text>
<circle cx="326.6" cy="139.92" r="2.0" fill="#00C0B2"/>
<text x="340.7" y="143.22" font-size="8.83" fill="#000" stroke="#000" stroke-width="0.15">Gloeophyllales</text>
<circle cx="326.6" cy="156.58" r="2.0" fill="#00BCD6"/>
<text x="340.7" y="159.88" font-size="8.83" fill="#000" stroke="#000" stroke-width="0.15">Gomphales</text>
<circle cx="326.6" cy="173.24" r="2.0" fill="#00B3F2"/>
<text x="340.7" y="176.54" font-size="8.83" fill="#000" stroke="#000" stroke-width="0.15">Hymenochaetales</text>
<circle cx="326.6" cy="189.90" r="2.0" fill="#29A3FF"/>
<text x="340.7" y="193.20" font-size="8.83" fill="#000" stroke="#000" stroke-width="0.15">Hysterangiales</text>
<circle cx="421.0" cy="106.80" r="2.0" fill="#9C8DFF"/>
<text x="434.8" y="110.10" font-size="8.83" fill="#000" stroke="#000" stroke-width="0.15">Jaapiales</text>
<circle cx="421.0" cy="123.46" r="2.0" fill="#D277FF"/>
<text x="434.8" y="126.76" font-size="8.83" fill="#000" stroke="#000" stroke-width="0.15">Polyporales</text>
<circle cx="421.0" cy="140.12" r="2.0" fill="#F166E8"/>
<text x="434.8" y="143.42" font-size="8.83" fill="#000" stroke="#000" stroke-width="0.15">Russulales</text>
<circle cx="421.0" cy="156.78" r="2.0" fill="#FF61C7"/>
<text x="434.8" y="160.08" font-size="8.83" fill="#000" stroke="#000" stroke-width="0.15">Thelephorales</text>
<circle cx="421.0" cy="173.44" r="2.0" fill="#FF689E"/>
<text x="434.8" y="176.74" font-size="8.83" fill="#000" stroke="#000" stroke-width="0.15">Trechisporales</text>
</g>
<g id="scatter">
<rect x="259.9" y="205.2" width="262.35" height="311.7" fill="#fff"/>
<path d="M269.60 205.2V516.9M323.40 205.2V516.9M377.22 205.2V516.9M431.02 205.2V516.9M484.84 205.2V516.9M259.9 457.41H522.25M259.9 366.62H522.25M259.9 275.84H522.25" stroke="#F0F0F0" stroke-width="0.35" fill="none"/>
<path d="M296.50 205.2V516.9M350.31 205.2V516.9M404.12 205.2V516.9M457.93 205.2V516.9M511.74 205.2V516.9M259.9 502.80H522.25M259.9 412.02H522.25M259.9 321.23H522.25M259.9 230.45H522.25" stroke="#EBEBEB" stroke-width="0.6" fill="none"/>
<circle cx="348.3" cy="219.3" r="3.4" fill="#45B500" fill-opacity="0.9"/>
<circle cx="339.3" cy="253.7" r="3.4" fill="#45B500" fill-opacity="0.9"/>
<circle cx="324.0" cy="269.3" r="3.4" fill="#45B500" fill-opacity="0.9"/>
<circle cx="386.5" cy="267.0" r="3.4" fill="#B2A100" fill-opacity="0.9"/>
<circle cx="432.5" cy="251.3" r="3.4" fill="#00C087" fill-opacity="0.9"/>
<circle cx="510.1" cy="230.6" r="3.4" fill="#F8766D" fill-opacity="0.9"/>
<circle cx="336.6" cy="293.9" r="3.4" fill="#F8766D" fill-opacity="0.9"/>
<circle cx="390.3" cy="296.2" r="3.4" fill="#F8766D" fill-opacity="0.9"/>
<circle cx="369.2" cy="312.4" r="3.4" fill="#F8766D" fill-opacity="0.9"/>
<circle cx="358.1" cy="316.6" r="3.4" fill="#F8766D" fill-opacity="0.9"/>
<circle cx="379.7" cy="328.1" r="3.4" fill="#B2A100" fill-opacity="0.9"/>
<circle cx="400.8" cy="337.3" r="3.4" fill="#F8766D" fill-opacity="0.9"/>
<circle cx="423.5" cy="341.6" r="3.4" fill="#F8766D" fill-opacity="0.9"/>
<circle cx="325.8" cy="323.5" r="3.4" fill="#00BC51" fill-opacity="0.9"/>
<circle cx="331.7" cy="323.5" r="3.4" fill="#45B500" fill-opacity="0.9"/>
<circle cx="328.5" cy="324.5" r="3.4" fill="#F8766D" fill-opacity="0.9"/>
<circle cx="315.4" cy="325.5" r="3.4" fill="#F8766D" fill-opacity="0.9"/>
<circle cx="309.0" cy="328.0" r="3.4" fill="#F8766D" fill-opacity="0.9"/>
<circle cx="302.7" cy="332.3" r="3.4" fill="#F8766D" fill-opacity="0.9"/>
<circle cx="312.0" cy="334.8" r="3.4" fill="#F8766D" fill-opacity="0.9"/>
<circle cx="323.6" cy="341.5" r="3.4" fill="#F8766D" fill-opacity="0.9"/>
<circle cx="330.9" cy="334.8" r="3.4" fill="#9C8DFF" fill-opacity="0.9"/>
<circle cx="314.4" cy="343.7" r="3.4" fill="#F8766D" fill-opacity="0.9"/>
<circle cx="322.5" cy="350.8" r="3.4" fill="#F8766D" fill-opacity="0.9"/>
<circle cx="327.8" cy="353.7" r="3.4" fill="#F8766D" fill-opacity="0.9"/>
<circle cx="313.2" cy="358.9" r="3.4" fill="#FF61C7" fill-opacity="0.9"/>
<circle cx="318.2" cy="359.2" r="3.4" fill="#F8766D" fill-opacity="0.9"/>
<circle cx="301.4" cy="368.0" r="3.4" fill="#D277FF" fill-opacity="0.9"/>
<circle cx="323.3" cy="365.2" r="3.4" fill="#D277FF" fill-opacity="0.9"/>
<circle cx="349.3" cy="362.1" r="3.4" fill="#F8766D" fill-opacity="0.9"/>
<circle cx="369.2" cy="368.0" r="3.4" fill="#F8766D" fill-opacity="0.9"/>
<circle cx="361.1" cy="372.4" r="3.4" fill="#F8766D" fill-opacity="0.9"/>
<circle cx="380.5" cy="375.6" r="3.4" fill="#F8766D" fill-opacity="0.9"/>
<circle cx="354.7" cy="376.1" r="3.4" fill="#F8766D" fill-opacity="0.9"/>
<circle cx="344.3" cy="373.5" r="3.4" fill="#00B3F2" fill-opacity="0.9"/>
<circle cx="365.4" cy="391.8" r="3.4" fill="#F8766D" fill-opacity="0.9"/>
<circle cx="308.6" cy="373.0" r="3.4" fill="#F8766D" fill-opacity="0.9"/>
<circle cx="306.4" cy="382.8" r="3.4" fill="#D277FF" fill-opacity="0.9"/>
<circle cx="310.6" cy="391.3" r="3.4" fill="#D277FF" fill-opacity="0.9"/>
<circle cx="312.3" cy="384.5" r="3.4" fill="#D277FF" fill-opacity="0.9"/>
<circle cx="324.1" cy="371.9" r="3.4" fill="#D277FF" fill-opacity="0.9"/>
<circle cx="319.9" cy="375.2" r="3.4" fill="#D277FF" fill-opacity="0.9"/>
<circle cx="316.0" cy="379.0" r="3.4" fill="#D277FF" fill-opacity="0.9"/>
<circle cx="328.0" cy="380.0" r="3.4" fill="#D277FF" fill-opacity="0.9"/>
<circle cx="333.0" cy="376.0" r="3.4" fill="#F8766D" fill-opacity="0.9"/>
<circle cx="336.0" cy="383.0" r="3.4" fill="#D277FF" fill-opacity="0.9"/>
<circle cx="330.0" cy="388.0" r="3.4" fill="#D277FF" fill-opacity="0.9"/>
<circle cx="322.0" cy="394.0" r="3.4" fill="#D277FF" fill-opacity="0.9"/>
<circle cx="326.0" cy="399.0" r="3.4" fill="#F8766D" fill-opacity="0.9"/>
<circle cx="309.8" cy="398.0" r="3.4" fill="#F8766D" fill-opacity="0.9"/>
<circle cx="298.0" cy="414.0" r="3.4" fill="#F8766D" fill-opacity="0.9"/>
<circle cx="303.9" cy="407.3" r="3.4" fill="#00B3F2" fill-opacity="0.9"/>
<circle cx="334.3" cy="412.3" r="3.4" fill="#00B3F2" fill-opacity="0.9"/>
<circle cx="316.6" cy="423.3" r="3.4" fill="#89AC00" fill-opacity="0.9"/>
<circle cx="320.8" cy="410.6" r="3.4" fill="#89AC00" fill-opacity="0.9"/>
<circle cx="330.0" cy="419.1" r="3.4" fill="#89AC00" fill-opacity="0.9"/>
<circle cx="334.3" cy="424.1" r="3.4" fill="#89AC00" fill-opacity="0.9"/>
<circle cx="314.0" cy="432.6" r="3.4" fill="#89AC00" fill-opacity="0.9"/>
<circle cx="319.9" cy="434.3" r="3.4" fill="#89AC00" fill-opacity="0.9"/>
<circle cx="334.3" cy="432.6" r="3.4" fill="#89AC00" fill-opacity="0.9"/>
<circle cx="343.5" cy="431.7" r="3.4" fill="#89AC00" fill-opacity="0.9"/>
<circle cx="314.4" cy="425.8" r="3.4" fill="#E7851E" fill-opacity="0.9"/>
<circle cx="303.0" cy="430.9" r="3.4" fill="#F8766D" fill-opacity="0.9"/>
<circle cx="271.4" cy="438.0" r="3.4" fill="#F8766D" fill-opacity="0.9"/>
<circle cx="313.2" cy="430.9" r="3.4" fill="#00C087" fill-opacity="0.9"/>
<circle cx="319.1" cy="414.0" r="3.4" fill="#FF61C7" fill-opacity="0.9"/>
<circle cx="338.4" cy="377.8" r="3.4" fill="#D277FF" fill-opacity="0.9"/>
<circle cx="343.4" cy="385.4" r="3.4" fill="#D277FF" fill-opacity="0.9"/>
<circle cx="340.9" cy="389.6" r="3.4" fill="#D277FF" fill-opacity="0.9"/>
<circle cx="344.3" cy="380.3" r="3.4" fill="#D277FF" fill-opacity="0.9"/>
<circle cx="346.5" cy="405.1" r="3.4" fill="#00B3F2" fill-opacity="0.9"/>
<circle cx="335.0" cy="412.3" r="3.4" fill="#00B3F2" fill-opacity="0.9"/>
<circle cx="349.3" cy="414.0" r="3.4" fill="#89AC00" fill-opacity="0.9"/>
<circle cx="335.0" cy="419.9" r="3.4" fill="#89AC00" fill-opacity="0.9"/>
<circle cx="346.8" cy="425.8" r="3.4" fill="#89AC00" fill-opacity="0.9"/>
<circle cx="342.6" cy="432.6" r="3.4" fill="#89AC00" fill-opacity="0.9"/>
<circle cx="338.4" cy="437.6" r="3.4" fill="#89AC00" fill-opacity="0.9"/>
<circle cx="356.0" cy="436.8" r="3.4" fill="#89AC00" fill-opacity="0.9"/>
<circle cx="351.9" cy="436.8" r="3.4" fill="#00BCD6" fill-opacity="0.9"/>
<circle cx="366.2" cy="444.4" r="3.4" fill="#F8766D" fill-opacity="0.9"/>
<circle cx="308.1" cy="446.0" r="3.4" fill="#D277FF" fill-opacity="0.9"/>
<circle cx="293.0" cy="457.0" r="3.4" fill="#D277FF" fill-opacity="0.9"/>
<circle cx="290.4" cy="463.7" r="3.4" fill="#D277FF" fill-opacity="0.9"/>
<circle cx="309.8" cy="453.6" r="3.4" fill="#F166E8" fill-opacity="0.9"/>
<circle cx="305.6" cy="455.3" r="3.4" fill="#89AC00" fill-opacity="0.9"/>
<circle cx="314.0" cy="452.0" r="3.4" fill="#89AC00" fill-opacity="0.9"/>
<circle cx="319.1" cy="449.4" r="3.4" fill="#89AC00" fill-opacity="0.9"/>
<circle cx="329.2" cy="445.2" r="3.4" fill="#89AC00" fill-opacity="0.9"/>
<circle cx="327.5" cy="441.0" r="3.4" fill="#89AC00" fill-opacity="0.9"/>
<circle cx="323.0" cy="437.0" r="3.4" fill="#89AC00" fill-opacity="0.9"/>
<circle cx="333.4" cy="463.7" r="3.4" fill="#89AC00" fill-opacity="0.9"/>
<circle cx="332.6" cy="470.5" r="3.4" fill="#89AC00" fill-opacity="0.9"/>
<circle cx="293.4" cy="473.3" r="3.4" fill="#89AC00" fill-opacity="0.9"/>
<circle cx="323.3" cy="461.2" r="3.4" fill="#00B3F2" fill-opacity="0.9"/>
<circle cx="340.5" cy="466.0" r="3.4" fill="#F8766D" fill-opacity="0.9"/>
<circle cx="342.7" cy="459.8" r="3.4" fill="#00BC51" fill-opacity="0.9"/>
<circle cx="310.6" cy="435.9" r="3.4" fill="#00C0B2" fill-opacity="0.9"/>
<circle cx="329.2" cy="489.0" r="3.4" fill="#D277FF" fill-opacity="0.9"/>
<circle cx="330.0" cy="497.5" r="3.4" fill="#F8766D" fill-opacity="0.9"/>
<circle cx="312.0" cy="502.5" r="3.4" fill="#D277FF" fill-opacity="0.9"/>
<circle cx="346.8" cy="446.0" r="3.4" fill="#89AC00" fill-opacity="0.9"/>
<circle cx="343.4" cy="452.8" r="3.4" fill="#89AC00" fill-opacity="0.9"/>
<circle cx="358.6" cy="455.3" r="3.4" fill="#D09400" fill-opacity="0.9"/>
<circle cx="355.7" cy="466.3" r="3.4" fill="#89AC00" fill-opacity="0.9"/>
<circle cx="367.0" cy="500.8" r="3.4" fill="#F8766D" fill-opacity="0.9"/>
<circle cx="300.0" cy="440.0" r="3.4" fill="#D277FF" fill-opacity="0.9"/>
<circle cx="306.0" cy="437.0" r="3.4" fill="#F166E8" fill-opacity="0.9"/>
<circle cx="322.0" cy="445.0" r="3.4" fill="#D277FF" fill-opacity="0.9"/>
<circle cx="337.0" cy="447.0" r="3.4" fill="#F166E8" fill-opacity="0.9"/>
<circle cx="326.0" cy="453.0" r="3.4" fill="#89AC00" fill-opacity="0.9"/>
<circle cx="320.0" cy="456.0" r="3.4" fill="#89AC00" fill-opacity="0.9"/>
<circle cx="336.0" cy="455.0" r="3.4" fill="#89AC00" fill-opacity="0.9"/>
<circle cx="313.5" cy="360.0" r="3.4" fill="#FF61C7" fill-opacity="0.9"/>
<circle cx="326.5" cy="359.0" r="3.4" fill="#F8766D" fill-opacity="0.9"/>
<circle cx="334.9" cy="364.0" r="3.4" fill="#F8766D" fill-opacity="0.9"/>
<circle cx="348.9" cy="361.7" r="3.4" fill="#F8766D" fill-opacity="0.9"/>
<circle cx="320.3" cy="366.2" r="3.4" fill="#F8766D" fill-opacity="0.9"/>
<circle cx="332.1" cy="370.7" r="3.4" fill="#F8766D" fill-opacity="0.9"/>
<circle cx="334.3" cy="376.3" r="3.4" fill="#00B3F2" fill-opacity="0.9"/>
<circle cx="316.9" cy="377.5" r="3.4" fill="#D277FF" fill-opacity="0.9"/>
<circle cx="324.2" cy="379.2" r="3.4" fill="#D277FF" fill-opacity="0.9"/>
<circle cx="339.4" cy="377.5" r="3.4" fill="#D277FF" fill-opacity="0.9"/>
<circle cx="354.0" cy="375.8" r="3.4" fill="#F8766D" fill-opacity="0.9"/>
<circle cx="323.1" cy="387.6" r="3.4" fill="#D277FF" fill-opacity="0.9"/>
<circle cx="315.2" cy="389.8" r="3.4" fill="#D277FF" fill-opacity="0.9"/>
<circle cx="309.6" cy="391.0" r="3.4" fill="#D277FF" fill-opacity="0.9"/>
<circle cx="344.4" cy="386.5" r="3.4" fill="#D277FF" fill-opacity="0.9"/>
<circle cx="339.9" cy="389.8" r="3.4" fill="#D277FF" fill-opacity="0.9"/>
<circle cx="318.0" cy="395.4" r="3.4" fill="#D277FF" fill-opacity="0.9"/>
<circle cx="337.7" cy="383.1" r="3.4" fill="#F8766D" fill-opacity="0.9"/>
<circle cx="336.0" cy="396.0" r="3.4" fill="#F8766D" fill-opacity="0.9"/>
<circle cx="297.2" cy="394.3" r="3.4" fill="#F8766D" fill-opacity="0.9"/>
<circle cx="346.7" cy="404.4" r="3.4" fill="#00B3F2" fill-opacity="0.9"/>
<circle cx="319.2" cy="410.6" r="3.4" fill="#89AC00" fill-opacity="0.9"/>
<circle cx="350.0" cy="413.4" r="3.4" fill="#89AC00" fill-opacity="0.9"/>
<circle cx="333.7" cy="431.5" r="3.4" fill="#45B500" fill-opacity="0.9"/>
<circle cx="307.5" cy="437.5" r="3.4" fill="#00C0B2" fill-opacity="0.9"/>
<circle cx="317.2" cy="440.5" r="3.4" fill="#F166E8" fill-opacity="0.9"/>
<circle cx="311.2" cy="452.5" r="3.4" fill="#F166E8" fill-opacity="0.9"/>
<circle cx="328.4" cy="445.0" r="3.4" fill="#89AC00" fill-opacity="0.9"/>
<circle cx="333.0" cy="448.0" r="3.4" fill="#89AC00" fill-opacity="0.9"/>
<circle cx="321.7" cy="450.2" r="3.4" fill="#89AC00" fill-opacity="0.9"/>
<circle cx="314.2" cy="451.7" r="3.4" fill="#89AC00" fill-opacity="0.9"/>
<circle cx="305.2" cy="454.2" r="3.4" fill="#89AC00" fill-opacity="0.9"/>
<circle cx="346.4" cy="445.7" r="3.4" fill="#89AC00" fill-opacity="0.9"/>
<circle cx="342.7" cy="452.5" r="3.4" fill="#89AC00" fill-opacity="0.9"/>
<circle cx="326.2" cy="455.4" r="3.4" fill="#89AC00" fill-opacity="0.9"/>
<circle cx="324.7" cy="442.0" r="3.4" fill="#F8766D" fill-opacity="0.9"/>
<circle cx="333.0" cy="470.4" r="3.4" fill="#89AC00" fill-opacity="0.9"/>
<circle cx="326.2" cy="427.0" r="3.4" fill="#89AC00" fill-opacity="0.9"/>
<path d="M272 405.5L510.1 285.5" stroke="#F8766D" stroke-width="2.1" fill="none" stroke-linecap="butt"/>
<path d="M301.4 408.6L344.8 381.6" stroke="#00B3F2" stroke-width="2.3" fill="none"/>
<path d="M291.6 427.9L336.3 389.6" stroke="#D277FF" stroke-width="1.9" fill="none"/>
<path d="M293.2 440.8L349 438.5" stroke="#89AC00" stroke-width="2.0" fill="none"/>
<path d="M306.4 309.5L325.0 322.5M328.5 313.0L328.0 321.5M298.5 315.7L314.0 324.7M293.0 324.2L307.3 327.2M281.1 332.0L301.4 332.3M324.0 331.0L323.6 340.7M347.6 326.4L335.0 332.0M301.4 342.0L312.3 343.3M282.8 347.5L313.2 358.4M301.0 349.0L315.0 357.6M282.0 354.2L300.5 367.7M285.4 366.0L300.5 368.2M347.0 339.0L335.0 358.0M352.5 343.0L335.0 361.0M352.0 346.5L335.0 363.0M351.5 351.0L335.0 365.0M367.5 349.5L335.0 367.0M355.5 361.4L350.0 362.0M394.9 363.8L370.5 367.8M389.8 369.8L363.7 372.0M398.7 373.2L383.0 375.2M383.9 383.7L357.0 376.6M394.0 381.6L363.7 373.2M360.5 386.7L347.5 387.0M354.4 396.8L343.4 394.6M389.0 398.5L367.9 392.4M361.1 406.1L349.3 405.3M373.4 412.0L351.9 414.0M362.0 420.3L337.5 425.0M369.6 424.6L349.3 425.8M360.3 429.5L345.1 432.9M368.7 434.3L355.2 436.4M370.4 438.1L358.6 437.6M372.9 443.8L345.1 441.0M382.2 447.7L367.9 446.4M366.2 451.1L349.3 446.9M372.9 457.8L361.1 455.6M362.8 462.0L346.0 455.3M349.3 468.8L343.4 462.0M374.6 473.5L358.3 467.1M351.0 479.2L341.4 468.0M346.8 486.5L336.7 466.3M336.0 481.0L333.4 466.3M282.7 371.6L307.3 372.7M291.3 379.1L305.6 382.0M284.5 383.2L305.6 382.0M291.5 390.0L308.0 396.5M276.9 392.1L298.0 394.1M277.5 398.0L287.0 398.5M277.0 401.8L302.2 400.9M274.9 409.8L299.7 405.6M291.0 411.0L303.0 408.0M291.3 423.3L314.0 424.1M290.5 434.0L303.0 431.5M297.0 438.0L318.0 435.0M292.5 443.0L330.0 441.5M285.2 446.4L328.0 442.0M279.5 449.6L325.0 443.5M297.0 452.0L313.0 451.5M287.0 456.0L304.0 455.6M274.4 461.1L303.9 455.3M284.5 470.5L291.2 464.6M285.4 482.3L293.0 474.7M303.9 478.1L312.3 457.0M307.3 482.3L314.0 457.8M317.7 474.2L314.9 457.0M328.4 481.4L323.8 463.7" stroke="#151515" stroke-width="0.95" fill="none"/>
<text x="345.5" y="221.10" font-size="4.0" text-anchor="middle" fill="#111" stroke="#111" stroke-width="0.05">Tulca1</text>
<text x="336.5" y="255.50" font-size="4.0" text-anchor="middle" fill="#111" stroke="#111" stroke-width="0.05">CerAGI</text>
<text x="321.2" y="271.10" font-size="4.0" text-anchor="middle" fill="#111" stroke="#111" stroke-width="0.05">Rhiso1</text>
<text x="384.0" y="268.80" font-size="4.0" text-anchor="middle" fill="#111" stroke="#111" stroke-width="0.05">Exigl1</text>
<text x="430.0" y="253.10" font-size="4.0" text-anchor="middle" fill="#111" stroke="#111" stroke-width="0.05">Sphst1</text>
<text x="498.5" y="232.80" font-size="4.0" text-anchor="middle" fill="#111" stroke="#111" stroke-width="0.05">Mycgal1</text>
<text x="343.4" y="294.10" font-size="4.0" text-anchor="middle" fill="#111" stroke="#111" stroke-width="0.05">Penpap1</text>
<text x="388.6" y="296.40" font-size="4.0" text-anchor="middle" fill="#111" stroke="#111" stroke-width="0.05">Hyrmar1</text>
<text x="373.4" y="310.10" font-size="4.0" text-anchor="middle" fill="#111" stroke="#111" stroke-width="0.05">Cyastr2</text>
<text x="358.1" y="319.20" font-size="4.0" text-anchor="middle" fill="#111" stroke="#111" stroke-width="0.05">Galma1</text>
<text x="374.1" y="329.50" font-size="4.0" text-anchor="middle" fill="#111" stroke="#111" stroke-width="0.05">Aurde3_1</text>
<text x="396.9" y="341.30" font-size="4.0" text-anchor="middle" fill="#111" stroke="#111" stroke-width="0.05">Cyrnos1</text>
<text x="424.0" y="347.30" font-size="4.0" text-anchor="middle" fill="#111" stroke="#111" stroke-width="0.05">Denbi1</text>
<text x="302.2" y="308.30" font-size="4.0" text-anchor="middle" fill="#111" stroke="#111" stroke-width="0.05">ClaPMI390</text>
<text x="327.5" y="311.80" font-size="4.0" text-anchor="middle" fill="#111" stroke="#111" stroke-width="0.05">Pleery1</text>
<text x="338.0" y="317.20" font-size="4.0" text-anchor="middle" fill="#111" stroke="#111" stroke-width="0.05">Botbo1</text>
<text x="283.2" y="315.00" font-size="4.0" text-anchor="middle" fill="#111" stroke="#111" stroke-width="0.05">Monpe1_1</text>
<text x="281.1" y="325.30" font-size="4.0" text-anchor="middle" fill="#111" stroke="#111" stroke-width="0.05">PleosPC15_2</text>
<text x="269.8" y="333.40" font-size="4.0" text-anchor="middle" fill="#111" stroke="#111" stroke-width="0.05">Volvo1</text>
<text x="310.0" y="337.30" font-size="4.0" text-anchor="middle" fill="#111" stroke="#111" stroke-width="0.05">Pleosl1</text>
<text x="324.0" y="330.30" font-size="4.0" text-anchor="middle" fill="#111" stroke="#111" stroke-width="0.05">Lyde1</text>
<text x="351.5" y="327.30" font-size="4.0" text-anchor="middle" fill="#111" stroke="#111" stroke-width="0.05">Jaaar1</text>
<text x="290.9" y="341.70" font-size="4.0" text-anchor="middle" fill="#111" stroke="#111" stroke-width="0.05">Pseub1_1</text>
<text x="310.0" y="348.30" font-size="4.0" text-anchor="middle" fill="#111" stroke="#111" stroke-width="0.05">Cylto1</text>
<text x="337.6" y="341.20" font-size="4.0" text-anchor="middle" fill="#111" stroke="#111" stroke-width="0.05">Blacfu1</text>
<text x="277.3" y="348.40" font-size="4.0" text-anchor="middle" fill="#111" stroke="#111" stroke-width="0.05">Sisni1</text>
<text x="296.0" y="348.40" font-size="4.0" text-anchor="middle" fill="#111" stroke="#111" stroke-width="0.05">Sisni2</text>
<text x="274.7" y="354.60" font-size="4.0" text-anchor="middle" fill="#111" stroke="#111" stroke-width="0.05">Rigmic1</text>
<text x="273.9" y="367.30" font-size="4.0" text-anchor="middle" fill="#111" stroke="#111" stroke-width="0.05">PleosPC9_1</text>
<text x="311.0" y="365.30" font-size="4.0" text-anchor="middle" fill="#111" stroke="#111" stroke-width="0.05">Armme1_1</text>
<text x="351.5" y="338.30" font-size="4.0" text-anchor="middle" fill="#111" stroke="#111" stroke-width="0.05">Gymjun1</text>
<text x="360.0" y="342.50" font-size="4.0" text-anchor="middle" fill="#111" stroke="#111" stroke-width="0.05">Polsqu1</text>
<text x="359.0" y="346.20" font-size="4.0" text-anchor="middle" fill="#111" stroke="#111" stroke-width="0.05">Xylyso3</text>
<text x="356.6" y="350.40" font-size="4.0" text-anchor="middle" fill="#111" stroke="#111" stroke-width="0.05">Mort1</text>
<text x="375.1" y="348.80" font-size="4.0" text-anchor="middle" fill="#111" stroke="#111" stroke-width="0.05">Plucer1</text>
<text x="362.8" y="361.40" font-size="4.0" text-anchor="middle" fill="#111" stroke="#111" stroke-width="0.05">Phichg1</text>
<text x="404.5" y="365.20" font-size="4.0" text-anchor="middle" fill="#111" stroke="#111" stroke-width="0.05">Amnosp1</text>
<text x="355.5" y="368.30" font-size="4.0" text-anchor="middle" fill="#111" stroke="#111" stroke-width="0.05">Galbi1</text>
<text x="397.7" y="371.10" font-size="4.0" text-anchor="middle" fill="#111" stroke="#111" stroke-width="0.05">Gymlu1</text>
<text x="404.1" y="374.50" font-size="4.0" text-anchor="middle" fill="#111" stroke="#111" stroke-width="0.05">Armga1</text>
<text x="387.3" y="387.50" font-size="4.0" text-anchor="middle" fill="#111" stroke="#111" stroke-width="0.05">Armost1</text>
<text x="403.8" y="384.30" font-size="4.0" text-anchor="middle" fill="#111" stroke="#111" stroke-width="0.05">Armosto1</text>
<text x="342.0" y="379.30" font-size="4.0" text-anchor="middle" fill="#111" stroke="#111" stroke-width="0.05">Earsca1</text>
<text x="352.5" y="383.40" font-size="4.0" text-anchor="middle" fill="#111" stroke="#111" stroke-width="0.05">Fiome1</text>
<text x="365.9" y="388.00" font-size="4.0" text-anchor="middle" fill="#111" stroke="#111" stroke-width="0.05">Lopnu1</text>
<text x="345.5" y="392.60" font-size="4.0" text-anchor="middle" fill="#111" stroke="#111" stroke-width="0.05">Hyfev1</text>
<text x="360.0" y="399.00" font-size="4.0" text-anchor="middle" fill="#111" stroke="#111" stroke-width="0.05">Pobr1</text>
<text x="342.5" y="402.00" font-size="4.0" text-anchor="middle" fill="#111" stroke="#111" stroke-width="0.05">Lacam2</text>
<text x="391.5" y="402.70" font-size="4.0" text-anchor="middle" fill="#111" stroke="#111" stroke-width="0.05">Rhobut1_1</text>
<text x="368.7" y="407.90" font-size="4.0" text-anchor="middle" fill="#111" stroke="#111" stroke-width="0.05">Ramac1</text>
<text x="354.0" y="411.60" font-size="4.0" text-anchor="middle" fill="#111" stroke="#111" stroke-width="0.05">Schpa1</text>
<text x="379.7" y="413.60" font-size="4.0" text-anchor="middle" fill="#111" stroke="#111" stroke-width="0.05">Suiocl1</text>
<text x="370.4" y="421.70" font-size="4.0" text-anchor="middle" fill="#111" stroke="#111" stroke-width="0.05">Suiame1</text>
<text x="376.3" y="426.30" font-size="4.0" text-anchor="middle" fill="#111" stroke="#111" stroke-width="0.05">Suipic1</text>
<text x="367.9" y="430.50" font-size="4.0" text-anchor="middle" fill="#111" stroke="#111" stroke-width="0.05">Boled5</text>
<text x="379.4" y="435.60" font-size="4.0" text-anchor="middle" fill="#111" stroke="#111" stroke-width="0.05">Gaumor1_1</text>
<text x="377.2" y="439.90" font-size="4.0" text-anchor="middle" fill="#111" stroke="#111" stroke-width="0.05">Suibr2</text>
<text x="381.9" y="445.30" font-size="4.0" text-anchor="middle" fill="#111" stroke="#111" stroke-width="0.05">Lacqu1</text>
<text x="389.0" y="449.50" font-size="4.0" text-anchor="middle" fill="#111" stroke="#111" stroke-width="0.05">Stesa3</text>
<text x="372.9" y="453.70" font-size="4.0" text-anchor="middle" fill="#111" stroke="#111" stroke-width="0.05">Suilak1</text>
<text x="378.5" y="460.50" font-size="4.0" text-anchor="middle" fill="#111" stroke="#111" stroke-width="0.05">Pilcr1</text>
<text x="368.7" y="464.70" font-size="4.0" text-anchor="middle" fill="#111" stroke="#111" stroke-width="0.05">Paxru2</text>
<text x="353.2" y="473.10" font-size="4.0" text-anchor="middle" fill="#111" stroke="#111" stroke-width="0.05">Hydru2</text>
<text x="380.0" y="476.50" font-size="4.0" text-anchor="middle" fill="#111" stroke="#111" stroke-width="0.05">Sclci1</text>
<text x="358.6" y="483.20" font-size="4.0" text-anchor="middle" fill="#111" stroke="#111" stroke-width="0.05">Amamu1</text>
<text x="347.6" y="490.80" font-size="4.0" text-anchor="middle" fill="#111" stroke="#111" stroke-width="0.05">Pismi2</text>
<text x="338.0" y="485.40" font-size="4.0" text-anchor="middle" fill="#111" stroke="#111" stroke-width="0.05">Pisti2</text>
<text x="274.9" y="372.50" font-size="4.0" text-anchor="middle" fill="#111" stroke="#111" stroke-width="0.05">Trapu1</text>
<text x="293.0" y="373.70" font-size="4.0" text-anchor="middle" fill="#111" stroke="#111" stroke-width="0.05">Corfal1</text>
<text x="284.0" y="380.40" font-size="4.0" text-anchor="middle" fill="#111" stroke="#111" stroke-width="0.05">Lenvi1</text>
<text x="276.0" y="384.60" font-size="4.0" text-anchor="middle" fill="#111" stroke="#111" stroke-width="0.05">Abobie1</text>
<text x="285.0" y="390.00" font-size="4.0" text-anchor="middle" fill="#111" stroke="#111" stroke-width="0.05">Trabe1</text>
<text x="269.8" y="393.40" font-size="4.0" text-anchor="middle" fill="#111" stroke="#111" stroke-width="0.05">Amath1</text>
<text x="269.8" y="398.50" font-size="4.0" text-anchor="middle" fill="#111" stroke="#111" stroke-width="0.05">Ompol1</text>
<text x="270.2" y="402.70" font-size="4.0" text-anchor="middle" fill="#111" stroke="#111" stroke-width="0.05">Punst1</text>
<text x="287.9" y="405.70" font-size="4.0" text-anchor="middle" fill="#111" stroke="#111" stroke-width="0.05">Stehi1</text>
<text x="268.2" y="411.30" font-size="4.0" text-anchor="middle" fill="#111" stroke="#111" stroke-width="0.05">Dicsq1</text>
<text x="283.3" y="412.80" font-size="4.0" text-anchor="middle" fill="#111" stroke="#111" stroke-width="0.05">Fomme1</text>
<text x="278.6" y="417.00" font-size="4.0" text-anchor="middle" fill="#111" stroke="#111" stroke-width="0.05">Agabi_varbisH97_2</text>
<text x="284.0" y="424.30" font-size="4.0" text-anchor="middle" fill="#111" stroke="#111" stroke-width="0.05">Obbri1</text>
<text x="295.5" y="429.60" font-size="4.0" text-anchor="middle" fill="#111" stroke="#111" stroke-width="0.05">Antphy1</text>
<text x="283.7" y="434.90" font-size="4.0" text-anchor="middle" fill="#111" stroke="#111" stroke-width="0.05">Fisha1</text>
<text x="267.6" y="436.90" font-size="4.0" text-anchor="middle" fill="#111" stroke="#111" stroke-width="0.05">Laugen1_1</text>
<text x="290.4" y="438.90" font-size="4.0" text-anchor="middle" fill="#111" stroke="#111" stroke-width="0.05">Monlu1</text>
<text x="271.9" y="442.30" font-size="4.0" text-anchor="middle" fill="#111" stroke="#111" stroke-width="0.05">Rasur1</text>
<text x="286.2" y="444.40" font-size="4.0" text-anchor="middle" fill="#111" stroke="#111" stroke-width="0.05">Lamp1</text>
<text x="276.9" y="447.80" font-size="4.0" text-anchor="middle" fill="#111" stroke="#111" stroke-width="0.05">Gloin1_1</text>
<text x="269.8" y="451.20" font-size="4.0" text-anchor="middle" fill="#111" stroke="#111" stroke-width="0.05">Piptet1_1</text>
<text x="290.4" y="453.40" font-size="4.0" text-anchor="middle" fill="#111" stroke="#111" stroke-width="0.05">Daequ1</text>
<text x="280.3" y="457.40" font-size="4.0" text-anchor="middle" fill="#111" stroke="#111" stroke-width="0.05">Wolco1</text>
<text x="267.1" y="463.30" font-size="4.0" text-anchor="middle" fill="#111" stroke="#111" stroke-width="0.05">Fibra1</text>
<text x="280.0" y="467.50" font-size="4.0" text-anchor="middle" fill="#111" stroke="#111" stroke-width="0.05">Thega1</text>
<text x="278.6" y="476.10" font-size="4.0" text-anchor="middle" fill="#111" stroke="#111" stroke-width="0.05">Posp1</text>
<text x="301.4" y="473.50" font-size="4.0" text-anchor="middle" fill="#111" stroke="#111" stroke-width="0.05">Gyli1</text>
<text x="276.9" y="486.10" font-size="4.0" text-anchor="middle" fill="#111" stroke="#111" stroke-width="0.05">PhlFC14_2</text>
<text x="298.5" y="481.90" font-size="4.0" text-anchor="middle" fill="#111" stroke="#111" stroke-width="0.05">Paxam1</text>
<text x="306.4" y="486.90" font-size="4.0" text-anchor="middle" fill="#111" stroke="#111" stroke-width="0.05">Thelan1</text>
<text x="317.7" y="478.20" font-size="4.0" text-anchor="middle" fill="#111" stroke="#111" stroke-width="0.05">Suibov1</text>
<text x="323.3" y="485.40" font-size="4.0" text-anchor="middle" fill="#111" stroke="#111" stroke-width="0.05">Hyrsub1</text>
<text x="323.3" y="493.70" font-size="4.0" text-anchor="middle" fill="#111" stroke="#111" stroke-width="0.05">Phlbr1</text>
<text x="333.5" y="502.80" font-size="4.0" text-anchor="middle" fill="#111" stroke="#111" stroke-width="0.05">Serlac3</text>
<text x="304.5" y="507.00" font-size="4.0" text-anchor="middle" fill="#111" stroke="#111" stroke-width="0.05">Gansp1</text>
<text x="363.5" y="502.70" font-size="4.0" text-anchor="middle" fill="#111" stroke="#111" stroke-width="0.05">Lacbi2</text>
<text x="309.6" y="368.80" font-size="4.0" text-anchor="middle" fill="#111" stroke="#111" stroke-width="0.05">Pleos1_1</text>
<text x="325.5" y="367.80" font-size="4.0" text-anchor="middle" fill="#111" stroke="#111" stroke-width="0.05">Polbr1</text>
<text x="312.0" y="380.10" font-size="4.0" text-anchor="middle" fill="#111" stroke="#111" stroke-width="0.05">Fomfom1</text>
<text x="330.0" y="382.00" font-size="4.0" text-anchor="middle" fill="#111" stroke="#111" stroke-width="0.05">Hyphol1</text>
<text x="308.5" y="388.00" font-size="4.0" text-anchor="middle" fill="#111" stroke="#111" stroke-width="0.05">Trave1</text>
<text x="326.0" y="386.30" font-size="4.0" text-anchor="middle" fill="#111" stroke="#111" stroke-width="0.05">Fibsp1</text>
<text x="324.5" y="392.00" font-size="4.0" text-anchor="middle" fill="#111" stroke="#111" stroke-width="0.05">Pycci1</text>
<text x="340.5" y="407.80" font-size="4.0" text-anchor="middle" fill="#111" stroke="#111" stroke-width="0.05">Hypsu1</text>
<text x="313.0" y="396.30" font-size="4.0" text-anchor="middle" fill="#111" stroke="#111" stroke-width="0.05">Phlgi1</text>
<text x="321.0" y="404.30" font-size="4.0" text-anchor="middle" fill="#111" stroke="#111" stroke-width="0.05">Cersu1</text>
<text x="331.0" y="402.30" font-size="4.0" text-anchor="middle" fill="#111" stroke="#111" stroke-width="0.05">Gansp2</text>
<text x="318.0" y="408.30" font-size="4.0" text-anchor="middle" fill="#111" stroke="#111" stroke-width="0.05">Lensq1</text>
<text x="327.0" y="409.70" font-size="4.0" text-anchor="middle" fill="#111" stroke="#111" stroke-width="0.05">Bjead1</text>
<text x="335.5" y="417.30" font-size="4.0" text-anchor="middle" fill="#111" stroke="#111" stroke-width="0.05">Phaca1</text>
<text x="322.5" y="418.60" font-size="4.0" text-anchor="middle" fill="#111" stroke="#111" stroke-width="0.05">Hetan2</text>
<text x="338.0" y="422.00" font-size="4.0" text-anchor="middle" fill="#111" stroke="#111" stroke-width="0.05">Paxin1</text>
<text x="330.0" y="429.50" font-size="4.0" text-anchor="middle" fill="#111" stroke="#111" stroke-width="0.05">Suilu4</text>
<text x="322.0" y="430.80" font-size="4.0" text-anchor="middle" fill="#111" stroke="#111" stroke-width="0.05">Pisti1</text>
<text x="341.0" y="436.80" font-size="4.0" text-anchor="middle" fill="#111" stroke="#111" stroke-width="0.05">Sclci2</text>
<text x="331.5" y="439.40" font-size="4.0" text-anchor="middle" fill="#111" stroke="#111" stroke-width="0.05">Rhivi1</text>
<text x="323.0" y="447.30" font-size="4.0" text-anchor="middle" fill="#111" stroke="#111" stroke-width="0.05">Suigr1</text>
<text x="336.0" y="444.80" font-size="4.0" text-anchor="middle" fill="#111" stroke="#111" stroke-width="0.05">Suiva1</text>
<text x="344.0" y="450.30" font-size="4.0" text-anchor="middle" fill="#111" stroke="#111" stroke-width="0.05">Suihi1</text>
<text x="329.5" y="453.00" font-size="4.0" text-anchor="middle" fill="#111" stroke="#111" stroke-width="0.05">Suisub1</text>
<text x="318.0" y="459.30" font-size="4.0" text-anchor="middle" fill="#111" stroke="#111" stroke-width="0.05">Melbi2</text>
<text x="337.5" y="458.80" font-size="4.0" text-anchor="middle" fill="#111" stroke="#111" stroke-width="0.05">Conpu1</text>
<text x="349.0" y="453.10" font-size="4.0" text-anchor="middle" fill="#111" stroke="#111" stroke-width="0.05">Serla7</text>
<text x="330.0" y="467.80" font-size="4.0" text-anchor="middle" fill="#111" stroke="#111" stroke-width="0.05">Hydfim1</text>
<text x="345.0" y="463.30" font-size="4.0" text-anchor="middle" fill="#111" stroke="#111" stroke-width="0.05">Leisp1</text>
<rect x="259.9" y="205.2" width="262.35" height="311.7" fill="none" stroke="#333" stroke-width="1.1"/>
<text x="254.7" y="506.05" font-size="8.3" text-anchor="end" fill="#4D4D4D">0</text>
<text x="254.7" y="415.27" font-size="8.3" text-anchor="end" fill="#4D4D4D">40</text>
<text x="254.7" y="324.48" font-size="8.3" text-anchor="end" fill="#4D4D4D">80</text>
<text x="254.7" y="233.70" font-size="8.3" text-anchor="end" fill="#4D4D4D">120</text>
<text x="296.50" y="528.4" font-size="8.3" text-anchor="middle" fill="#4D4D4D">10000</text>
<text x="350.31" y="528.4" font-size="8.3" text-anchor="middle" fill="#4D4D4D">20000</text>
<text x="404.12" y="528.4" font-size="8.3" text-anchor="middle" fill="#4D4D4D">30000</text>
<text x="457.93" y="528.4" font-size="8.3" text-anchor="middle" fill="#4D4D4D">40000</text>
<text x="511.74" y="528.4" font-size="8.3" text-anchor="middle" fill="#4D4D4D">50000</text>
<path d="M257.09999999999997 502.80H259.9M257.09999999999997 412.02H259.9M257.09999999999997 321.23H259.9M257.09999999999997 230.45H259.9M296.50 516.9v2.8M350.31 516.9v2.8M404.12 516.9v2.8M457.93 516.9v2.8M511.74 516.9v2.8" stroke="#333" stroke-width="0.7" fill="none"/>
<text x="389" y="542.6" font-size="10.5" text-anchor="middle" fill="#000" stroke="#000" stroke-width="0.18">Predicted Genes (total)</text>
<text transform="translate(234.8 356.8) rotate(-90)" font-size="10.5" text-anchor="middle" fill="#000" stroke="#000" stroke-width="0.18">Predicted Cellulases (total)</text>
</g>
</svg>
</body></html>
